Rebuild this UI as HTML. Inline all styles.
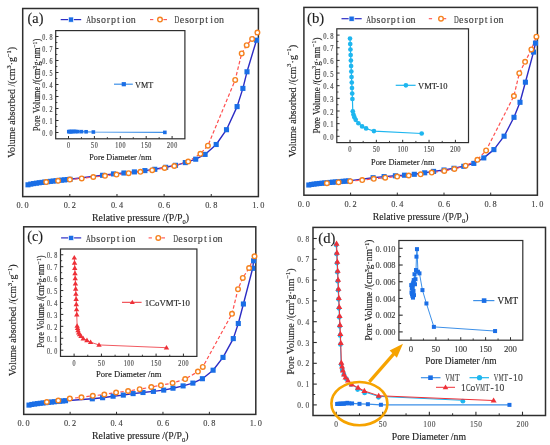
<!DOCTYPE html><html><head><meta charset="utf-8"><style>html,body{margin:0;padding:0;background:#fff;overflow:hidden;}svg{display:block;will-change:transform;}</style></head><body><svg width="550" height="445" viewBox="0 0 550 445">
<rect width="550" height="445" fill="#fff"/>
<rect x="22.7" y="8.5" width="235.70" height="188.10" fill="none" stroke="#2e2e2e" stroke-width="1.5"/>
<text x="18.70" y="208.30" font-size="8.3" font-family="Liberation Serif, serif" fill="#3c3c3c" stroke="#3c3c3c" stroke-width="0.12" text-anchor="middle">0</text>
<text x="20.78" y="208.30" font-size="8.3" font-family="Liberation Serif, serif" fill="#3c3c3c" stroke="#3c3c3c" stroke-width="0.12">.</text>
<text x="26.70" y="208.30" font-size="8.3" font-family="Liberation Serif, serif" fill="#3c3c3c" stroke="#3c3c3c" stroke-width="0.12" text-anchor="middle">0</text>
<line x1="69.84" y1="196.60" x2="69.84" y2="194.00" stroke="#2e2e2e" stroke-width="1.0" />
<text x="65.84" y="208.30" font-size="8.3" font-family="Liberation Serif, serif" fill="#3c3c3c" stroke="#3c3c3c" stroke-width="0.12" text-anchor="middle">0</text>
<text x="67.92" y="208.30" font-size="8.3" font-family="Liberation Serif, serif" fill="#3c3c3c" stroke="#3c3c3c" stroke-width="0.12">.</text>
<text x="73.84" y="208.30" font-size="8.3" font-family="Liberation Serif, serif" fill="#3c3c3c" stroke="#3c3c3c" stroke-width="0.12" text-anchor="middle">2</text>
<line x1="116.98" y1="196.60" x2="116.98" y2="194.00" stroke="#2e2e2e" stroke-width="1.0" />
<text x="112.98" y="208.30" font-size="8.3" font-family="Liberation Serif, serif" fill="#3c3c3c" stroke="#3c3c3c" stroke-width="0.12" text-anchor="middle">0</text>
<text x="115.06" y="208.30" font-size="8.3" font-family="Liberation Serif, serif" fill="#3c3c3c" stroke="#3c3c3c" stroke-width="0.12">.</text>
<text x="120.98" y="208.30" font-size="8.3" font-family="Liberation Serif, serif" fill="#3c3c3c" stroke="#3c3c3c" stroke-width="0.12" text-anchor="middle">4</text>
<line x1="164.12" y1="196.60" x2="164.12" y2="194.00" stroke="#2e2e2e" stroke-width="1.0" />
<text x="160.12" y="208.30" font-size="8.3" font-family="Liberation Serif, serif" fill="#3c3c3c" stroke="#3c3c3c" stroke-width="0.12" text-anchor="middle">0</text>
<text x="162.20" y="208.30" font-size="8.3" font-family="Liberation Serif, serif" fill="#3c3c3c" stroke="#3c3c3c" stroke-width="0.12">.</text>
<text x="168.12" y="208.30" font-size="8.3" font-family="Liberation Serif, serif" fill="#3c3c3c" stroke="#3c3c3c" stroke-width="0.12" text-anchor="middle">6</text>
<line x1="211.26" y1="196.60" x2="211.26" y2="194.00" stroke="#2e2e2e" stroke-width="1.0" />
<text x="207.26" y="208.30" font-size="8.3" font-family="Liberation Serif, serif" fill="#3c3c3c" stroke="#3c3c3c" stroke-width="0.12" text-anchor="middle">0</text>
<text x="209.34" y="208.30" font-size="8.3" font-family="Liberation Serif, serif" fill="#3c3c3c" stroke="#3c3c3c" stroke-width="0.12">.</text>
<text x="215.26" y="208.30" font-size="8.3" font-family="Liberation Serif, serif" fill="#3c3c3c" stroke="#3c3c3c" stroke-width="0.12" text-anchor="middle">8</text>
<text x="254.40" y="208.30" font-size="8.3" font-family="Liberation Serif, serif" fill="#3c3c3c" stroke="#3c3c3c" stroke-width="0.12" text-anchor="middle">1</text>
<text x="256.48" y="208.30" font-size="8.3" font-family="Liberation Serif, serif" fill="#3c3c3c" stroke="#3c3c3c" stroke-width="0.12">.</text>
<text x="262.40" y="208.30" font-size="8.3" font-family="Liberation Serif, serif" fill="#3c3c3c" stroke="#3c3c3c" stroke-width="0.12" text-anchor="middle">0</text>
<polyline points="28.00,184.80 30.80,184.08 33.60,183.59 36.40,183.16 39.20,182.76 42.00,182.39 44.80,182.03 47.60,181.69 50.40,181.37 53.20,181.05 56.00,180.74 58.80,180.44 61.60,180.15 64.40,179.86 67.20,179.58 70.00,179.30 102.60,175.30 113.50,173.90 123.90,173.00 134.40,171.90 144.90,170.60 154.80,169.30 165.70,167.30 175.50,165.30 185.30,162.60 195.70,159.20 205.10,154.40 216.20,144.50 226.50,129.70 237.10,106.60 242.90,88.40 247.00,71.80 256.50,40.20" fill="none" stroke="#2c2cc4" stroke-width="1.4" stroke-linejoin="round" />
<polyline points="46.20,182.10 58.10,180.80 69.90,179.60 81.70,178.40 93.30,177.00 105.00,175.80 116.50,174.60 128.60,173.20 140.40,171.80 152.20,170.20 164.60,168.00 174.30,166.00 188.20,161.50 200.40,153.80 207.90,145.70 235.20,79.90 241.70,53.40 246.70,45.20 252.10,38.90 257.40,32.60" fill="none" stroke="#ff5050" stroke-width="1.2" stroke-linejoin="round" stroke-dasharray="3.5,2.2"/>
<rect x="25.45" y="182.25" width="5.1" height="5.1" fill="#1a6ee6"/>
<rect x="28.25" y="181.53" width="5.1" height="5.1" fill="#1a6ee6"/>
<rect x="31.05" y="181.04" width="5.1" height="5.1" fill="#1a6ee6"/>
<rect x="33.85" y="180.61" width="5.1" height="5.1" fill="#1a6ee6"/>
<rect x="36.65" y="180.21" width="5.1" height="5.1" fill="#1a6ee6"/>
<rect x="39.45" y="179.84" width="5.1" height="5.1" fill="#1a6ee6"/>
<rect x="42.25" y="179.48" width="5.1" height="5.1" fill="#1a6ee6"/>
<rect x="45.05" y="179.14" width="5.1" height="5.1" fill="#1a6ee6"/>
<rect x="47.85" y="178.82" width="5.1" height="5.1" fill="#1a6ee6"/>
<rect x="50.65" y="178.50" width="5.1" height="5.1" fill="#1a6ee6"/>
<rect x="53.45" y="178.19" width="5.1" height="5.1" fill="#1a6ee6"/>
<rect x="56.25" y="177.89" width="5.1" height="5.1" fill="#1a6ee6"/>
<rect x="59.05" y="177.60" width="5.1" height="5.1" fill="#1a6ee6"/>
<rect x="61.85" y="177.31" width="5.1" height="5.1" fill="#1a6ee6"/>
<rect x="64.65" y="177.03" width="5.1" height="5.1" fill="#1a6ee6"/>
<rect x="67.45" y="176.75" width="5.1" height="5.1" fill="#1a6ee6"/>
<rect x="100.05" y="172.75" width="5.1" height="5.1" fill="#1a6ee6"/>
<rect x="110.95" y="171.35" width="5.1" height="5.1" fill="#1a6ee6"/>
<rect x="121.35" y="170.45" width="5.1" height="5.1" fill="#1a6ee6"/>
<rect x="131.85" y="169.35" width="5.1" height="5.1" fill="#1a6ee6"/>
<rect x="142.35" y="168.05" width="5.1" height="5.1" fill="#1a6ee6"/>
<rect x="152.25" y="166.75" width="5.1" height="5.1" fill="#1a6ee6"/>
<rect x="163.15" y="164.75" width="5.1" height="5.1" fill="#1a6ee6"/>
<rect x="172.95" y="162.75" width="5.1" height="5.1" fill="#1a6ee6"/>
<rect x="182.75" y="160.05" width="5.1" height="5.1" fill="#1a6ee6"/>
<rect x="193.15" y="156.65" width="5.1" height="5.1" fill="#1a6ee6"/>
<rect x="202.55" y="151.85" width="5.1" height="5.1" fill="#1a6ee6"/>
<rect x="213.65" y="141.95" width="5.1" height="5.1" fill="#1a6ee6"/>
<rect x="223.95" y="127.15" width="5.1" height="5.1" fill="#1a6ee6"/>
<rect x="234.55" y="104.05" width="5.1" height="5.1" fill="#1a6ee6"/>
<rect x="240.35" y="85.85" width="5.1" height="5.1" fill="#1a6ee6"/>
<rect x="244.45" y="69.25" width="5.1" height="5.1" fill="#1a6ee6"/>
<rect x="253.95" y="37.65" width="5.1" height="5.1" fill="#1a6ee6"/>
<circle cx="46.20" cy="182.10" r="2.3" fill="#fff" stroke="#f5821f" stroke-width="1.4"/>
<circle cx="58.10" cy="180.80" r="2.3" fill="#fff" stroke="#f5821f" stroke-width="1.4"/>
<circle cx="69.90" cy="179.60" r="2.3" fill="#fff" stroke="#f5821f" stroke-width="1.4"/>
<circle cx="81.70" cy="178.40" r="2.3" fill="#fff" stroke="#f5821f" stroke-width="1.4"/>
<circle cx="93.30" cy="177.00" r="2.3" fill="#fff" stroke="#f5821f" stroke-width="1.4"/>
<circle cx="105.00" cy="175.80" r="2.3" fill="#fff" stroke="#f5821f" stroke-width="1.4"/>
<circle cx="116.50" cy="174.60" r="2.3" fill="#fff" stroke="#f5821f" stroke-width="1.4"/>
<circle cx="128.60" cy="173.20" r="2.3" fill="#fff" stroke="#f5821f" stroke-width="1.4"/>
<circle cx="140.40" cy="171.80" r="2.3" fill="#fff" stroke="#f5821f" stroke-width="1.4"/>
<circle cx="152.20" cy="170.20" r="2.3" fill="#fff" stroke="#f5821f" stroke-width="1.4"/>
<circle cx="164.60" cy="168.00" r="2.3" fill="#fff" stroke="#f5821f" stroke-width="1.4"/>
<circle cx="174.30" cy="166.00" r="2.3" fill="#fff" stroke="#f5821f" stroke-width="1.4"/>
<circle cx="188.20" cy="161.50" r="2.3" fill="#fff" stroke="#f5821f" stroke-width="1.4"/>
<circle cx="200.40" cy="153.80" r="2.3" fill="#fff" stroke="#f5821f" stroke-width="1.4"/>
<circle cx="207.90" cy="145.70" r="2.3" fill="#fff" stroke="#f5821f" stroke-width="1.4"/>
<circle cx="235.20" cy="79.90" r="2.3" fill="#fff" stroke="#f5821f" stroke-width="1.4"/>
<circle cx="241.70" cy="53.40" r="2.3" fill="#fff" stroke="#f5821f" stroke-width="1.4"/>
<circle cx="246.70" cy="45.20" r="2.3" fill="#fff" stroke="#f5821f" stroke-width="1.4"/>
<circle cx="252.10" cy="38.90" r="2.3" fill="#fff" stroke="#f5821f" stroke-width="1.4"/>
<circle cx="257.40" cy="32.60" r="2.3" fill="#fff" stroke="#f5821f" stroke-width="1.4"/>
<text x="27.60" y="22.60" font-size="15.5" font-family="Liberation Serif, serif" fill="#1e1e1e" stroke="#1e1e1e" stroke-width="0.15" text-anchor="start" textLength="15.8" lengthAdjust="spacingAndGlyphs" >(a)</text>
<line x1="60.70" y1="19.60" x2="81.20" y2="19.60" stroke="#2c2cc4" stroke-width="1.2" />
<rect x="68.35" y="17.00" width="5.2" height="5.2" fill="#1a6ee6" stroke="#fff" stroke-width="0.7"/>
<text x="86.30" y="23.40" font-size="10" font-family="Liberation Serif, serif" fill="#3c3c3c" stroke="#3c3c3c" stroke-width="0.12" textLength="4.75" lengthAdjust="spacingAndGlyphs">A</text>
<text x="93.62" y="23.40" font-size="10" font-family="Liberation Serif, serif" fill="#3c3c3c" stroke="#3c3c3c" stroke-width="0.12" text-anchor="middle">b</text>
<text x="98.57" y="23.40" font-size="10" font-family="Liberation Serif, serif" fill="#3c3c3c" stroke="#3c3c3c" stroke-width="0.12" text-anchor="middle">s</text>
<text x="103.52" y="23.40" font-size="10" font-family="Liberation Serif, serif" fill="#3c3c3c" stroke="#3c3c3c" stroke-width="0.12" text-anchor="middle">o</text>
<text x="108.47" y="23.40" font-size="10" font-family="Liberation Serif, serif" fill="#3c3c3c" stroke="#3c3c3c" stroke-width="0.12" text-anchor="middle">r</text>
<text x="113.42" y="23.40" font-size="10" font-family="Liberation Serif, serif" fill="#3c3c3c" stroke="#3c3c3c" stroke-width="0.12" text-anchor="middle">p</text>
<text x="118.38" y="23.40" font-size="10" font-family="Liberation Serif, serif" fill="#3c3c3c" stroke="#3c3c3c" stroke-width="0.12" text-anchor="middle">t</text>
<text x="123.32" y="23.40" font-size="10" font-family="Liberation Serif, serif" fill="#3c3c3c" stroke="#3c3c3c" stroke-width="0.12" text-anchor="middle">i</text>
<text x="128.27" y="23.40" font-size="10" font-family="Liberation Serif, serif" fill="#3c3c3c" stroke="#3c3c3c" stroke-width="0.12" text-anchor="middle">o</text>
<text x="133.22" y="23.40" font-size="10" font-family="Liberation Serif, serif" fill="#3c3c3c" stroke="#3c3c3c" stroke-width="0.12" text-anchor="middle">n</text>
<line x1="150.00" y1="19.60" x2="153.30" y2="19.60" stroke="#ff5050" stroke-width="1.1" />
<line x1="163.40" y1="19.60" x2="167.00" y2="19.60" stroke="#ff5050" stroke-width="1.1" />
<circle cx="160.00" cy="19.60" r="2.3" fill="#fff" stroke="#f5821f" stroke-width="1.4"/>
<text x="174.60" y="23.40" font-size="10" font-family="Liberation Serif, serif" fill="#3c3c3c" stroke="#3c3c3c" stroke-width="0.12" textLength="4.75" lengthAdjust="spacingAndGlyphs">D</text>
<text x="181.93" y="23.40" font-size="10" font-family="Liberation Serif, serif" fill="#3c3c3c" stroke="#3c3c3c" stroke-width="0.12" text-anchor="middle">e</text>
<text x="186.88" y="23.40" font-size="10" font-family="Liberation Serif, serif" fill="#3c3c3c" stroke="#3c3c3c" stroke-width="0.12" text-anchor="middle">s</text>
<text x="191.82" y="23.40" font-size="10" font-family="Liberation Serif, serif" fill="#3c3c3c" stroke="#3c3c3c" stroke-width="0.12" text-anchor="middle">o</text>
<text x="196.78" y="23.40" font-size="10" font-family="Liberation Serif, serif" fill="#3c3c3c" stroke="#3c3c3c" stroke-width="0.12" text-anchor="middle">r</text>
<text x="201.72" y="23.40" font-size="10" font-family="Liberation Serif, serif" fill="#3c3c3c" stroke="#3c3c3c" stroke-width="0.12" text-anchor="middle">p</text>
<text x="206.68" y="23.40" font-size="10" font-family="Liberation Serif, serif" fill="#3c3c3c" stroke="#3c3c3c" stroke-width="0.12" text-anchor="middle">t</text>
<text x="211.62" y="23.40" font-size="10" font-family="Liberation Serif, serif" fill="#3c3c3c" stroke="#3c3c3c" stroke-width="0.12" text-anchor="middle">i</text>
<text x="216.57" y="23.40" font-size="10" font-family="Liberation Serif, serif" fill="#3c3c3c" stroke="#3c3c3c" stroke-width="0.12" text-anchor="middle">o</text>
<text x="221.53" y="23.40" font-size="10" font-family="Liberation Serif, serif" fill="#3c3c3c" stroke="#3c3c3c" stroke-width="0.12" text-anchor="middle">n</text>
<text transform="translate(15.40,157.80) rotate(-90)" font-size="10.6" font-family="Liberation Serif, serif" fill="#1e1e1e" stroke="#1e1e1e" stroke-width="0.15" textLength="110.8" lengthAdjust="spacingAndGlyphs">Volume absorbed /(cm<tspan font-size="6.8" dy="-4.4">3</tspan><tspan dy="4.4">·g</tspan><tspan font-size="6.8" dy="-4.4">−1</tspan><tspan dy="4.4">)</tspan></text>
<text x="92.00" y="220.60" font-size="10.3" font-family="Liberation Serif, serif" fill="#1e1e1e" stroke="#1e1e1e" stroke-width="0.15" text-anchor="start" textLength="97" lengthAdjust="spacingAndGlyphs" >Relative pressure /(P/P<tspan font-size="6.8" dy="3.3">0</tspan><tspan dy="-3.3">)</tspan></text>
<rect x="55.7" y="30.6" width="129.20" height="108.20" fill="#fff" stroke="none"/>
<line x1="55.70" y1="132.50" x2="58.50" y2="132.50" stroke="#2e2e2e" stroke-width="1.0" />
<line x1="55.70" y1="126.50" x2="57.40" y2="126.50" stroke="#2e2e2e" stroke-width="0.9" />
<text x="42.18" y="135.80" font-size="7.6" font-family="Liberation Serif, serif" fill="#505050" stroke="#505050" stroke-width="0.2" textLength="3.04" lengthAdjust="spacingAndGlyphs">0</text>
<text x="45.57" y="135.80" font-size="7.6" font-family="Liberation Serif, serif" fill="#505050" stroke="#505050" stroke-width="0.2">.</text>
<text x="49.38" y="135.80" font-size="7.6" font-family="Liberation Serif, serif" fill="#505050" stroke="#505050" stroke-width="0.2" textLength="3.04" lengthAdjust="spacingAndGlyphs">0</text>
<line x1="55.70" y1="120.50" x2="58.50" y2="120.50" stroke="#2e2e2e" stroke-width="1.0" />
<line x1="55.70" y1="114.50" x2="57.40" y2="114.50" stroke="#2e2e2e" stroke-width="0.9" />
<text x="42.18" y="123.80" font-size="7.6" font-family="Liberation Serif, serif" fill="#505050" stroke="#505050" stroke-width="0.2" textLength="3.04" lengthAdjust="spacingAndGlyphs">0</text>
<text x="45.57" y="123.80" font-size="7.6" font-family="Liberation Serif, serif" fill="#505050" stroke="#505050" stroke-width="0.2">.</text>
<text x="49.38" y="123.80" font-size="7.6" font-family="Liberation Serif, serif" fill="#505050" stroke="#505050" stroke-width="0.2" textLength="3.04" lengthAdjust="spacingAndGlyphs">1</text>
<line x1="55.70" y1="108.50" x2="58.50" y2="108.50" stroke="#2e2e2e" stroke-width="1.0" />
<line x1="55.70" y1="102.50" x2="57.40" y2="102.50" stroke="#2e2e2e" stroke-width="0.9" />
<text x="42.18" y="111.80" font-size="7.6" font-family="Liberation Serif, serif" fill="#505050" stroke="#505050" stroke-width="0.2" textLength="3.04" lengthAdjust="spacingAndGlyphs">0</text>
<text x="45.57" y="111.80" font-size="7.6" font-family="Liberation Serif, serif" fill="#505050" stroke="#505050" stroke-width="0.2">.</text>
<text x="49.38" y="111.80" font-size="7.6" font-family="Liberation Serif, serif" fill="#505050" stroke="#505050" stroke-width="0.2" textLength="3.04" lengthAdjust="spacingAndGlyphs">2</text>
<line x1="55.70" y1="96.50" x2="58.50" y2="96.50" stroke="#2e2e2e" stroke-width="1.0" />
<line x1="55.70" y1="90.50" x2="57.40" y2="90.50" stroke="#2e2e2e" stroke-width="0.9" />
<text x="42.18" y="99.80" font-size="7.6" font-family="Liberation Serif, serif" fill="#505050" stroke="#505050" stroke-width="0.2" textLength="3.04" lengthAdjust="spacingAndGlyphs">0</text>
<text x="45.57" y="99.80" font-size="7.6" font-family="Liberation Serif, serif" fill="#505050" stroke="#505050" stroke-width="0.2">.</text>
<text x="49.38" y="99.80" font-size="7.6" font-family="Liberation Serif, serif" fill="#505050" stroke="#505050" stroke-width="0.2" textLength="3.04" lengthAdjust="spacingAndGlyphs">3</text>
<line x1="55.70" y1="84.50" x2="58.50" y2="84.50" stroke="#2e2e2e" stroke-width="1.0" />
<line x1="55.70" y1="78.50" x2="57.40" y2="78.50" stroke="#2e2e2e" stroke-width="0.9" />
<text x="42.18" y="87.80" font-size="7.6" font-family="Liberation Serif, serif" fill="#505050" stroke="#505050" stroke-width="0.2" textLength="3.04" lengthAdjust="spacingAndGlyphs">0</text>
<text x="45.57" y="87.80" font-size="7.6" font-family="Liberation Serif, serif" fill="#505050" stroke="#505050" stroke-width="0.2">.</text>
<text x="49.38" y="87.80" font-size="7.6" font-family="Liberation Serif, serif" fill="#505050" stroke="#505050" stroke-width="0.2" textLength="3.04" lengthAdjust="spacingAndGlyphs">4</text>
<line x1="55.70" y1="72.50" x2="58.50" y2="72.50" stroke="#2e2e2e" stroke-width="1.0" />
<line x1="55.70" y1="66.50" x2="57.40" y2="66.50" stroke="#2e2e2e" stroke-width="0.9" />
<text x="42.18" y="75.80" font-size="7.6" font-family="Liberation Serif, serif" fill="#505050" stroke="#505050" stroke-width="0.2" textLength="3.04" lengthAdjust="spacingAndGlyphs">0</text>
<text x="45.57" y="75.80" font-size="7.6" font-family="Liberation Serif, serif" fill="#505050" stroke="#505050" stroke-width="0.2">.</text>
<text x="49.38" y="75.80" font-size="7.6" font-family="Liberation Serif, serif" fill="#505050" stroke="#505050" stroke-width="0.2" textLength="3.04" lengthAdjust="spacingAndGlyphs">5</text>
<line x1="55.70" y1="60.50" x2="58.50" y2="60.50" stroke="#2e2e2e" stroke-width="1.0" />
<line x1="55.70" y1="54.50" x2="57.40" y2="54.50" stroke="#2e2e2e" stroke-width="0.9" />
<text x="42.18" y="63.80" font-size="7.6" font-family="Liberation Serif, serif" fill="#505050" stroke="#505050" stroke-width="0.2" textLength="3.04" lengthAdjust="spacingAndGlyphs">0</text>
<text x="45.57" y="63.80" font-size="7.6" font-family="Liberation Serif, serif" fill="#505050" stroke="#505050" stroke-width="0.2">.</text>
<text x="49.38" y="63.80" font-size="7.6" font-family="Liberation Serif, serif" fill="#505050" stroke="#505050" stroke-width="0.2" textLength="3.04" lengthAdjust="spacingAndGlyphs">6</text>
<line x1="55.70" y1="48.50" x2="58.50" y2="48.50" stroke="#2e2e2e" stroke-width="1.0" />
<line x1="55.70" y1="42.50" x2="57.40" y2="42.50" stroke="#2e2e2e" stroke-width="0.9" />
<text x="42.18" y="51.80" font-size="7.6" font-family="Liberation Serif, serif" fill="#505050" stroke="#505050" stroke-width="0.2" textLength="3.04" lengthAdjust="spacingAndGlyphs">0</text>
<text x="45.57" y="51.80" font-size="7.6" font-family="Liberation Serif, serif" fill="#505050" stroke="#505050" stroke-width="0.2">.</text>
<text x="49.38" y="51.80" font-size="7.6" font-family="Liberation Serif, serif" fill="#505050" stroke="#505050" stroke-width="0.2" textLength="3.04" lengthAdjust="spacingAndGlyphs">7</text>
<line x1="55.70" y1="36.50" x2="58.50" y2="36.50" stroke="#2e2e2e" stroke-width="1.0" />
<text x="42.18" y="39.80" font-size="7.6" font-family="Liberation Serif, serif" fill="#505050" stroke="#505050" stroke-width="0.2" textLength="3.04" lengthAdjust="spacingAndGlyphs">0</text>
<text x="45.57" y="39.80" font-size="7.6" font-family="Liberation Serif, serif" fill="#505050" stroke="#505050" stroke-width="0.2">.</text>
<text x="49.38" y="39.80" font-size="7.6" font-family="Liberation Serif, serif" fill="#505050" stroke="#505050" stroke-width="0.2" textLength="3.04" lengthAdjust="spacingAndGlyphs">8</text>
<line x1="68.50" y1="138.80" x2="68.50" y2="136.00" stroke="#2e2e2e" stroke-width="1.0" />
<line x1="81.45" y1="138.80" x2="81.45" y2="137.10" stroke="#2e2e2e" stroke-width="0.9" />
<text x="66.98" y="148.00" font-size="7.6" font-family="Liberation Serif, serif" fill="#505050" stroke="#505050" stroke-width="0.2" textLength="3.04" lengthAdjust="spacingAndGlyphs">0</text>
<line x1="94.40" y1="138.80" x2="94.40" y2="136.00" stroke="#2e2e2e" stroke-width="1.0" />
<line x1="107.35" y1="138.80" x2="107.35" y2="137.10" stroke="#2e2e2e" stroke-width="0.9" />
<text x="91.08" y="148.00" font-size="7.6" font-family="Liberation Serif, serif" fill="#505050" stroke="#505050" stroke-width="0.2" textLength="3.04" lengthAdjust="spacingAndGlyphs">5</text>
<text x="94.68" y="148.00" font-size="7.6" font-family="Liberation Serif, serif" fill="#505050" stroke="#505050" stroke-width="0.2" textLength="3.04" lengthAdjust="spacingAndGlyphs">0</text>
<line x1="120.30" y1="138.80" x2="120.30" y2="136.00" stroke="#2e2e2e" stroke-width="1.0" />
<line x1="133.25" y1="138.80" x2="133.25" y2="137.10" stroke="#2e2e2e" stroke-width="0.9" />
<text x="115.18" y="148.00" font-size="7.6" font-family="Liberation Serif, serif" fill="#505050" stroke="#505050" stroke-width="0.2" textLength="3.04" lengthAdjust="spacingAndGlyphs">1</text>
<text x="118.78" y="148.00" font-size="7.6" font-family="Liberation Serif, serif" fill="#505050" stroke="#505050" stroke-width="0.2" textLength="3.04" lengthAdjust="spacingAndGlyphs">0</text>
<text x="122.38" y="148.00" font-size="7.6" font-family="Liberation Serif, serif" fill="#505050" stroke="#505050" stroke-width="0.2" textLength="3.04" lengthAdjust="spacingAndGlyphs">0</text>
<line x1="146.20" y1="138.80" x2="146.20" y2="136.00" stroke="#2e2e2e" stroke-width="1.0" />
<line x1="159.15" y1="138.80" x2="159.15" y2="137.10" stroke="#2e2e2e" stroke-width="0.9" />
<text x="141.08" y="148.00" font-size="7.6" font-family="Liberation Serif, serif" fill="#505050" stroke="#505050" stroke-width="0.2" textLength="3.04" lengthAdjust="spacingAndGlyphs">1</text>
<text x="144.68" y="148.00" font-size="7.6" font-family="Liberation Serif, serif" fill="#505050" stroke="#505050" stroke-width="0.2" textLength="3.04" lengthAdjust="spacingAndGlyphs">5</text>
<text x="148.28" y="148.00" font-size="7.6" font-family="Liberation Serif, serif" fill="#505050" stroke="#505050" stroke-width="0.2" textLength="3.04" lengthAdjust="spacingAndGlyphs">0</text>
<line x1="172.10" y1="138.80" x2="172.10" y2="136.00" stroke="#2e2e2e" stroke-width="1.0" />
<text x="166.98" y="148.00" font-size="7.6" font-family="Liberation Serif, serif" fill="#505050" stroke="#505050" stroke-width="0.2" textLength="3.04" lengthAdjust="spacingAndGlyphs">2</text>
<text x="170.58" y="148.00" font-size="7.6" font-family="Liberation Serif, serif" fill="#505050" stroke="#505050" stroke-width="0.2" textLength="3.04" lengthAdjust="spacingAndGlyphs">0</text>
<text x="174.18" y="148.00" font-size="7.6" font-family="Liberation Serif, serif" fill="#505050" stroke="#505050" stroke-width="0.2" textLength="3.04" lengthAdjust="spacingAndGlyphs">0</text>
<rect x="55.7" y="30.6" width="129.20" height="108.20" fill="none" stroke="#2e2e2e" stroke-width="1.2"/>
<text x="89.30" y="159.50" font-size="9.0" font-family="Liberation Serif, serif" fill="#1e1e1e" stroke="#1e1e1e" stroke-width="0.15" text-anchor="start" textLength="62.2" lengthAdjust="spacingAndGlyphs" >Pore Diameter /nm</text>
<text transform="translate(40.00,131.20) rotate(-90)" font-size="10" font-family="Liberation Serif, serif" fill="#1e1e1e" stroke="#1e1e1e" stroke-width="0.15" textLength="92.5" lengthAdjust="spacingAndGlyphs">Pore Volume /(cm<tspan font-size="6.5" dy="-3.5">3</tspan><tspan dy="3.5">g·nm</tspan><tspan font-size="6.5" dy="-3.5">−1</tspan><tspan dy="3.5">)</tspan></text>
<polyline points="68.76,131.66 69.54,131.54 70.57,131.66 71.61,131.54 72.64,131.60 74.20,131.42 75.75,131.54 77.82,131.60 81.45,131.66 86.11,131.78 93.36,132.02 164.85,132.38" fill="none" stroke="#3d90e8" stroke-width="1.2" stroke-linejoin="round" />
<rect x="66.96" y="129.86" width="3.6" height="3.6" fill="#1a6ee6"/>
<rect x="67.74" y="129.74" width="3.6" height="3.6" fill="#1a6ee6"/>
<rect x="68.77" y="129.86" width="3.6" height="3.6" fill="#1a6ee6"/>
<rect x="69.81" y="129.74" width="3.6" height="3.6" fill="#1a6ee6"/>
<rect x="70.84" y="129.80" width="3.6" height="3.6" fill="#1a6ee6"/>
<rect x="72.40" y="129.62" width="3.6" height="3.6" fill="#1a6ee6"/>
<rect x="73.95" y="129.74" width="3.6" height="3.6" fill="#1a6ee6"/>
<rect x="76.02" y="129.80" width="3.6" height="3.6" fill="#1a6ee6"/>
<rect x="79.65" y="129.86" width="3.6" height="3.6" fill="#1a6ee6"/>
<rect x="84.31" y="129.98" width="3.6" height="3.6" fill="#1a6ee6"/>
<rect x="91.56" y="130.22" width="3.6" height="3.6" fill="#1a6ee6"/>
<rect x="163.05" y="130.58" width="3.6" height="3.6" fill="#1a6ee6"/>
<line x1="114.00" y1="84.20" x2="132.80" y2="84.20" stroke="#3d90e8" stroke-width="1.2" />
<rect x="121.70" y="82.10" width="4.2" height="4.2" fill="#1a6ee6"/>
<text x="135.00" y="87.60" font-size="8.9" font-family="Liberation Serif, serif" fill="#1e1e1e" stroke="#1e1e1e" stroke-width="0.15" text-anchor="start" textLength="18.2" lengthAdjust="spacingAndGlyphs" >VMT</text>
<rect x="303.9" y="7.4" width="233.50" height="187.80" fill="none" stroke="#2e2e2e" stroke-width="1.5"/>
<text x="299.90" y="207.40" font-size="8.3" font-family="Liberation Serif, serif" fill="#3c3c3c" stroke="#3c3c3c" stroke-width="0.12" text-anchor="middle">0</text>
<text x="301.98" y="207.40" font-size="8.3" font-family="Liberation Serif, serif" fill="#3c3c3c" stroke="#3c3c3c" stroke-width="0.12">.</text>
<text x="307.90" y="207.40" font-size="8.3" font-family="Liberation Serif, serif" fill="#3c3c3c" stroke="#3c3c3c" stroke-width="0.12" text-anchor="middle">0</text>
<line x1="350.60" y1="195.20" x2="350.60" y2="192.60" stroke="#2e2e2e" stroke-width="1.0" />
<text x="346.60" y="207.40" font-size="8.3" font-family="Liberation Serif, serif" fill="#3c3c3c" stroke="#3c3c3c" stroke-width="0.12" text-anchor="middle">0</text>
<text x="348.68" y="207.40" font-size="8.3" font-family="Liberation Serif, serif" fill="#3c3c3c" stroke="#3c3c3c" stroke-width="0.12">.</text>
<text x="354.60" y="207.40" font-size="8.3" font-family="Liberation Serif, serif" fill="#3c3c3c" stroke="#3c3c3c" stroke-width="0.12" text-anchor="middle">2</text>
<line x1="397.30" y1="195.20" x2="397.30" y2="192.60" stroke="#2e2e2e" stroke-width="1.0" />
<text x="393.30" y="207.40" font-size="8.3" font-family="Liberation Serif, serif" fill="#3c3c3c" stroke="#3c3c3c" stroke-width="0.12" text-anchor="middle">0</text>
<text x="395.38" y="207.40" font-size="8.3" font-family="Liberation Serif, serif" fill="#3c3c3c" stroke="#3c3c3c" stroke-width="0.12">.</text>
<text x="401.30" y="207.40" font-size="8.3" font-family="Liberation Serif, serif" fill="#3c3c3c" stroke="#3c3c3c" stroke-width="0.12" text-anchor="middle">4</text>
<line x1="444.00" y1="195.20" x2="444.00" y2="192.60" stroke="#2e2e2e" stroke-width="1.0" />
<text x="440.00" y="207.40" font-size="8.3" font-family="Liberation Serif, serif" fill="#3c3c3c" stroke="#3c3c3c" stroke-width="0.12" text-anchor="middle">0</text>
<text x="442.08" y="207.40" font-size="8.3" font-family="Liberation Serif, serif" fill="#3c3c3c" stroke="#3c3c3c" stroke-width="0.12">.</text>
<text x="448.00" y="207.40" font-size="8.3" font-family="Liberation Serif, serif" fill="#3c3c3c" stroke="#3c3c3c" stroke-width="0.12" text-anchor="middle">6</text>
<line x1="490.70" y1="195.20" x2="490.70" y2="192.60" stroke="#2e2e2e" stroke-width="1.0" />
<text x="486.70" y="207.40" font-size="8.3" font-family="Liberation Serif, serif" fill="#3c3c3c" stroke="#3c3c3c" stroke-width="0.12" text-anchor="middle">0</text>
<text x="488.78" y="207.40" font-size="8.3" font-family="Liberation Serif, serif" fill="#3c3c3c" stroke="#3c3c3c" stroke-width="0.12">.</text>
<text x="494.70" y="207.40" font-size="8.3" font-family="Liberation Serif, serif" fill="#3c3c3c" stroke="#3c3c3c" stroke-width="0.12" text-anchor="middle">8</text>
<text x="533.40" y="207.40" font-size="8.3" font-family="Liberation Serif, serif" fill="#3c3c3c" stroke="#3c3c3c" stroke-width="0.12" text-anchor="middle">1</text>
<text x="535.48" y="207.40" font-size="8.3" font-family="Liberation Serif, serif" fill="#3c3c3c" stroke="#3c3c3c" stroke-width="0.12">.</text>
<text x="541.40" y="207.40" font-size="8.3" font-family="Liberation Serif, serif" fill="#3c3c3c" stroke="#3c3c3c" stroke-width="0.12" text-anchor="middle">0</text>
<polyline points="308.80,185.00 311.45,184.46 314.09,184.10 316.74,183.77 319.39,183.48 322.03,183.20 324.68,182.94 327.33,182.69 329.97,182.44 332.62,182.20 335.27,181.98 337.91,181.75 340.56,181.53 343.21,181.32 345.85,181.11 348.50,180.90 373.10,177.70 384.10,176.60 395.40,175.80 404.50,175.20 414.30,174.30 424.70,172.80 433.60,171.40 444.00,170.00 454.00,168.30 463.80,166.30 473.80,163.40 483.80,157.90 493.90,149.60 504.10,136.20 514.00,117.30 520.00,102.30 525.40,82.20 533.50,52.10 535.50,43.10" fill="none" stroke="#2c2cc4" stroke-width="1.4" stroke-linejoin="round" />
<polyline points="326.90,183.20 338.60,182.30 350.20,181.20 362.20,180.10 373.80,178.80 385.20,177.70 397.20,176.60 408.70,175.50 420.60,174.30 431.70,172.60 444.30,170.90 454.40,169.00 465.60,165.70 477.40,159.80 486.10,150.40 513.90,96.00 519.30,73.20 525.10,61.80 531.40,49.40 536.40,36.70" fill="none" stroke="#ff5050" stroke-width="1.2" stroke-linejoin="round" stroke-dasharray="3.5,2.2"/>
<rect x="306.25" y="182.45" width="5.1" height="5.1" fill="#1a6ee6"/>
<rect x="308.90" y="181.91" width="5.1" height="5.1" fill="#1a6ee6"/>
<rect x="311.54" y="181.55" width="5.1" height="5.1" fill="#1a6ee6"/>
<rect x="314.19" y="181.22" width="5.1" height="5.1" fill="#1a6ee6"/>
<rect x="316.84" y="180.93" width="5.1" height="5.1" fill="#1a6ee6"/>
<rect x="319.48" y="180.65" width="5.1" height="5.1" fill="#1a6ee6"/>
<rect x="322.13" y="180.39" width="5.1" height="5.1" fill="#1a6ee6"/>
<rect x="324.78" y="180.14" width="5.1" height="5.1" fill="#1a6ee6"/>
<rect x="327.42" y="179.89" width="5.1" height="5.1" fill="#1a6ee6"/>
<rect x="330.07" y="179.65" width="5.1" height="5.1" fill="#1a6ee6"/>
<rect x="332.72" y="179.43" width="5.1" height="5.1" fill="#1a6ee6"/>
<rect x="335.36" y="179.20" width="5.1" height="5.1" fill="#1a6ee6"/>
<rect x="338.01" y="178.98" width="5.1" height="5.1" fill="#1a6ee6"/>
<rect x="340.66" y="178.77" width="5.1" height="5.1" fill="#1a6ee6"/>
<rect x="343.30" y="178.56" width="5.1" height="5.1" fill="#1a6ee6"/>
<rect x="345.95" y="178.35" width="5.1" height="5.1" fill="#1a6ee6"/>
<rect x="370.55" y="175.15" width="5.1" height="5.1" fill="#1a6ee6"/>
<rect x="381.55" y="174.05" width="5.1" height="5.1" fill="#1a6ee6"/>
<rect x="392.85" y="173.25" width="5.1" height="5.1" fill="#1a6ee6"/>
<rect x="401.95" y="172.65" width="5.1" height="5.1" fill="#1a6ee6"/>
<rect x="411.75" y="171.75" width="5.1" height="5.1" fill="#1a6ee6"/>
<rect x="422.15" y="170.25" width="5.1" height="5.1" fill="#1a6ee6"/>
<rect x="431.05" y="168.85" width="5.1" height="5.1" fill="#1a6ee6"/>
<rect x="441.45" y="167.45" width="5.1" height="5.1" fill="#1a6ee6"/>
<rect x="451.45" y="165.75" width="5.1" height="5.1" fill="#1a6ee6"/>
<rect x="461.25" y="163.75" width="5.1" height="5.1" fill="#1a6ee6"/>
<rect x="471.25" y="160.85" width="5.1" height="5.1" fill="#1a6ee6"/>
<rect x="481.25" y="155.35" width="5.1" height="5.1" fill="#1a6ee6"/>
<rect x="491.35" y="147.05" width="5.1" height="5.1" fill="#1a6ee6"/>
<rect x="501.55" y="133.65" width="5.1" height="5.1" fill="#1a6ee6"/>
<rect x="511.45" y="114.75" width="5.1" height="5.1" fill="#1a6ee6"/>
<rect x="517.45" y="99.75" width="5.1" height="5.1" fill="#1a6ee6"/>
<rect x="522.85" y="79.65" width="5.1" height="5.1" fill="#1a6ee6"/>
<rect x="530.95" y="49.55" width="5.1" height="5.1" fill="#1a6ee6"/>
<rect x="532.95" y="40.55" width="5.1" height="5.1" fill="#1a6ee6"/>
<circle cx="326.90" cy="183.20" r="2.3" fill="#fff" stroke="#f5821f" stroke-width="1.4"/>
<circle cx="338.60" cy="182.30" r="2.3" fill="#fff" stroke="#f5821f" stroke-width="1.4"/>
<circle cx="350.20" cy="181.20" r="2.3" fill="#fff" stroke="#f5821f" stroke-width="1.4"/>
<circle cx="362.20" cy="180.10" r="2.3" fill="#fff" stroke="#f5821f" stroke-width="1.4"/>
<circle cx="373.80" cy="178.80" r="2.3" fill="#fff" stroke="#f5821f" stroke-width="1.4"/>
<circle cx="385.20" cy="177.70" r="2.3" fill="#fff" stroke="#f5821f" stroke-width="1.4"/>
<circle cx="397.20" cy="176.60" r="2.3" fill="#fff" stroke="#f5821f" stroke-width="1.4"/>
<circle cx="408.70" cy="175.50" r="2.3" fill="#fff" stroke="#f5821f" stroke-width="1.4"/>
<circle cx="420.60" cy="174.30" r="2.3" fill="#fff" stroke="#f5821f" stroke-width="1.4"/>
<circle cx="431.70" cy="172.60" r="2.3" fill="#fff" stroke="#f5821f" stroke-width="1.4"/>
<circle cx="444.30" cy="170.90" r="2.3" fill="#fff" stroke="#f5821f" stroke-width="1.4"/>
<circle cx="454.40" cy="169.00" r="2.3" fill="#fff" stroke="#f5821f" stroke-width="1.4"/>
<circle cx="465.60" cy="165.70" r="2.3" fill="#fff" stroke="#f5821f" stroke-width="1.4"/>
<circle cx="477.40" cy="159.80" r="2.3" fill="#fff" stroke="#f5821f" stroke-width="1.4"/>
<circle cx="486.10" cy="150.40" r="2.3" fill="#fff" stroke="#f5821f" stroke-width="1.4"/>
<circle cx="513.90" cy="96.00" r="2.3" fill="#fff" stroke="#f5821f" stroke-width="1.4"/>
<circle cx="519.30" cy="73.20" r="2.3" fill="#fff" stroke="#f5821f" stroke-width="1.4"/>
<circle cx="525.10" cy="61.80" r="2.3" fill="#fff" stroke="#f5821f" stroke-width="1.4"/>
<circle cx="531.40" cy="49.40" r="2.3" fill="#fff" stroke="#f5821f" stroke-width="1.4"/>
<circle cx="536.40" cy="36.70" r="2.3" fill="#fff" stroke="#f5821f" stroke-width="1.4"/>
<text x="307.00" y="23.00" font-size="15.5" font-family="Liberation Serif, serif" fill="#1e1e1e" stroke="#1e1e1e" stroke-width="0.15" text-anchor="start" textLength="17.2" lengthAdjust="spacingAndGlyphs" >(b)</text>
<line x1="341.50" y1="18.70" x2="361.70" y2="18.70" stroke="#2c2cc4" stroke-width="1.2" />
<rect x="349.00" y="16.10" width="5.2" height="5.2" fill="#1a6ee6" stroke="#fff" stroke-width="0.7"/>
<text x="366.20" y="22.50" font-size="10" font-family="Liberation Serif, serif" fill="#3c3c3c" stroke="#3c3c3c" stroke-width="0.12" textLength="4.75" lengthAdjust="spacingAndGlyphs">A</text>
<text x="373.53" y="22.50" font-size="10" font-family="Liberation Serif, serif" fill="#3c3c3c" stroke="#3c3c3c" stroke-width="0.12" text-anchor="middle">b</text>
<text x="378.48" y="22.50" font-size="10" font-family="Liberation Serif, serif" fill="#3c3c3c" stroke="#3c3c3c" stroke-width="0.12" text-anchor="middle">s</text>
<text x="383.43" y="22.50" font-size="10" font-family="Liberation Serif, serif" fill="#3c3c3c" stroke="#3c3c3c" stroke-width="0.12" text-anchor="middle">o</text>
<text x="388.38" y="22.50" font-size="10" font-family="Liberation Serif, serif" fill="#3c3c3c" stroke="#3c3c3c" stroke-width="0.12" text-anchor="middle">r</text>
<text x="393.33" y="22.50" font-size="10" font-family="Liberation Serif, serif" fill="#3c3c3c" stroke="#3c3c3c" stroke-width="0.12" text-anchor="middle">p</text>
<text x="398.28" y="22.50" font-size="10" font-family="Liberation Serif, serif" fill="#3c3c3c" stroke="#3c3c3c" stroke-width="0.12" text-anchor="middle">t</text>
<text x="403.23" y="22.50" font-size="10" font-family="Liberation Serif, serif" fill="#3c3c3c" stroke="#3c3c3c" stroke-width="0.12" text-anchor="middle">i</text>
<text x="408.18" y="22.50" font-size="10" font-family="Liberation Serif, serif" fill="#3c3c3c" stroke="#3c3c3c" stroke-width="0.12" text-anchor="middle">o</text>
<text x="413.12" y="22.50" font-size="10" font-family="Liberation Serif, serif" fill="#3c3c3c" stroke="#3c3c3c" stroke-width="0.12" text-anchor="middle">n</text>
<line x1="428.80" y1="18.70" x2="432.10" y2="18.70" stroke="#ff5050" stroke-width="1.1" />
<line x1="442.60" y1="18.70" x2="446.20" y2="18.70" stroke="#ff5050" stroke-width="1.1" />
<circle cx="441.00" cy="18.70" r="2.3" fill="#fff" stroke="#f5821f" stroke-width="1.4"/>
<text x="454.00" y="22.50" font-size="10" font-family="Liberation Serif, serif" fill="#3c3c3c" stroke="#3c3c3c" stroke-width="0.12" textLength="4.75" lengthAdjust="spacingAndGlyphs">D</text>
<text x="461.33" y="22.50" font-size="10" font-family="Liberation Serif, serif" fill="#3c3c3c" stroke="#3c3c3c" stroke-width="0.12" text-anchor="middle">e</text>
<text x="466.28" y="22.50" font-size="10" font-family="Liberation Serif, serif" fill="#3c3c3c" stroke="#3c3c3c" stroke-width="0.12" text-anchor="middle">s</text>
<text x="471.23" y="22.50" font-size="10" font-family="Liberation Serif, serif" fill="#3c3c3c" stroke="#3c3c3c" stroke-width="0.12" text-anchor="middle">o</text>
<text x="476.18" y="22.50" font-size="10" font-family="Liberation Serif, serif" fill="#3c3c3c" stroke="#3c3c3c" stroke-width="0.12" text-anchor="middle">r</text>
<text x="481.13" y="22.50" font-size="10" font-family="Liberation Serif, serif" fill="#3c3c3c" stroke="#3c3c3c" stroke-width="0.12" text-anchor="middle">p</text>
<text x="486.08" y="22.50" font-size="10" font-family="Liberation Serif, serif" fill="#3c3c3c" stroke="#3c3c3c" stroke-width="0.12" text-anchor="middle">t</text>
<text x="491.03" y="22.50" font-size="10" font-family="Liberation Serif, serif" fill="#3c3c3c" stroke="#3c3c3c" stroke-width="0.12" text-anchor="middle">i</text>
<text x="495.98" y="22.50" font-size="10" font-family="Liberation Serif, serif" fill="#3c3c3c" stroke="#3c3c3c" stroke-width="0.12" text-anchor="middle">o</text>
<text x="500.93" y="22.50" font-size="10" font-family="Liberation Serif, serif" fill="#3c3c3c" stroke="#3c3c3c" stroke-width="0.12" text-anchor="middle">n</text>
<text transform="translate(295.60,157.20) rotate(-90)" font-size="10.6" font-family="Liberation Serif, serif" fill="#1e1e1e" stroke="#1e1e1e" stroke-width="0.15" textLength="112.3" lengthAdjust="spacingAndGlyphs">Volume absorbed /(cm<tspan font-size="6.8" dy="-4.4">3</tspan><tspan dy="4.4">·g</tspan><tspan font-size="6.8" dy="-4.4">−1</tspan><tspan dy="4.4">)</tspan></text>
<text x="372.70" y="219.60" font-size="10.3" font-family="Liberation Serif, serif" fill="#1e1e1e" stroke="#1e1e1e" stroke-width="0.15" text-anchor="start" textLength="95.8" lengthAdjust="spacingAndGlyphs" >Relative pressure /(P/P<tspan font-size="6.8" dy="3.3">0</tspan><tspan dy="-3.3">)</tspan></text>
<rect x="336.8" y="28.8" width="131.70" height="113.80" fill="#fff" stroke="none"/>
<line x1="336.80" y1="136.30" x2="339.60" y2="136.30" stroke="#2e2e2e" stroke-width="1.0" />
<line x1="336.80" y1="129.98" x2="338.50" y2="129.98" stroke="#2e2e2e" stroke-width="0.9" />
<text x="323.16" y="139.80" font-size="8.2" font-family="Liberation Serif, serif" fill="#505050" stroke="#505050" stroke-width="0.2" textLength="3.28" lengthAdjust="spacingAndGlyphs">0</text>
<text x="326.67" y="139.80" font-size="8.2" font-family="Liberation Serif, serif" fill="#505050" stroke="#505050" stroke-width="0.2">.</text>
<text x="330.36" y="139.80" font-size="8.2" font-family="Liberation Serif, serif" fill="#505050" stroke="#505050" stroke-width="0.2" textLength="3.28" lengthAdjust="spacingAndGlyphs">0</text>
<line x1="336.80" y1="123.65" x2="339.60" y2="123.65" stroke="#2e2e2e" stroke-width="1.0" />
<line x1="336.80" y1="117.33" x2="338.50" y2="117.33" stroke="#2e2e2e" stroke-width="0.9" />
<text x="323.16" y="127.15" font-size="8.2" font-family="Liberation Serif, serif" fill="#505050" stroke="#505050" stroke-width="0.2" textLength="3.28" lengthAdjust="spacingAndGlyphs">0</text>
<text x="326.67" y="127.15" font-size="8.2" font-family="Liberation Serif, serif" fill="#505050" stroke="#505050" stroke-width="0.2">.</text>
<text x="330.36" y="127.15" font-size="8.2" font-family="Liberation Serif, serif" fill="#505050" stroke="#505050" stroke-width="0.2" textLength="3.28" lengthAdjust="spacingAndGlyphs">1</text>
<line x1="336.80" y1="111.00" x2="339.60" y2="111.00" stroke="#2e2e2e" stroke-width="1.0" />
<line x1="336.80" y1="104.68" x2="338.50" y2="104.68" stroke="#2e2e2e" stroke-width="0.9" />
<text x="323.16" y="114.50" font-size="8.2" font-family="Liberation Serif, serif" fill="#505050" stroke="#505050" stroke-width="0.2" textLength="3.28" lengthAdjust="spacingAndGlyphs">0</text>
<text x="326.67" y="114.50" font-size="8.2" font-family="Liberation Serif, serif" fill="#505050" stroke="#505050" stroke-width="0.2">.</text>
<text x="330.36" y="114.50" font-size="8.2" font-family="Liberation Serif, serif" fill="#505050" stroke="#505050" stroke-width="0.2" textLength="3.28" lengthAdjust="spacingAndGlyphs">2</text>
<line x1="336.80" y1="98.35" x2="339.60" y2="98.35" stroke="#2e2e2e" stroke-width="1.0" />
<line x1="336.80" y1="92.03" x2="338.50" y2="92.03" stroke="#2e2e2e" stroke-width="0.9" />
<text x="323.16" y="101.85" font-size="8.2" font-family="Liberation Serif, serif" fill="#505050" stroke="#505050" stroke-width="0.2" textLength="3.28" lengthAdjust="spacingAndGlyphs">0</text>
<text x="326.67" y="101.85" font-size="8.2" font-family="Liberation Serif, serif" fill="#505050" stroke="#505050" stroke-width="0.2">.</text>
<text x="330.36" y="101.85" font-size="8.2" font-family="Liberation Serif, serif" fill="#505050" stroke="#505050" stroke-width="0.2" textLength="3.28" lengthAdjust="spacingAndGlyphs">3</text>
<line x1="336.80" y1="85.70" x2="339.60" y2="85.70" stroke="#2e2e2e" stroke-width="1.0" />
<line x1="336.80" y1="79.38" x2="338.50" y2="79.38" stroke="#2e2e2e" stroke-width="0.9" />
<text x="323.16" y="89.20" font-size="8.2" font-family="Liberation Serif, serif" fill="#505050" stroke="#505050" stroke-width="0.2" textLength="3.28" lengthAdjust="spacingAndGlyphs">0</text>
<text x="326.67" y="89.20" font-size="8.2" font-family="Liberation Serif, serif" fill="#505050" stroke="#505050" stroke-width="0.2">.</text>
<text x="330.36" y="89.20" font-size="8.2" font-family="Liberation Serif, serif" fill="#505050" stroke="#505050" stroke-width="0.2" textLength="3.28" lengthAdjust="spacingAndGlyphs">4</text>
<line x1="336.80" y1="73.05" x2="339.60" y2="73.05" stroke="#2e2e2e" stroke-width="1.0" />
<line x1="336.80" y1="66.73" x2="338.50" y2="66.73" stroke="#2e2e2e" stroke-width="0.9" />
<text x="323.16" y="76.55" font-size="8.2" font-family="Liberation Serif, serif" fill="#505050" stroke="#505050" stroke-width="0.2" textLength="3.28" lengthAdjust="spacingAndGlyphs">0</text>
<text x="326.67" y="76.55" font-size="8.2" font-family="Liberation Serif, serif" fill="#505050" stroke="#505050" stroke-width="0.2">.</text>
<text x="330.36" y="76.55" font-size="8.2" font-family="Liberation Serif, serif" fill="#505050" stroke="#505050" stroke-width="0.2" textLength="3.28" lengthAdjust="spacingAndGlyphs">5</text>
<line x1="336.80" y1="60.40" x2="339.60" y2="60.40" stroke="#2e2e2e" stroke-width="1.0" />
<line x1="336.80" y1="54.08" x2="338.50" y2="54.08" stroke="#2e2e2e" stroke-width="0.9" />
<text x="323.16" y="63.90" font-size="8.2" font-family="Liberation Serif, serif" fill="#505050" stroke="#505050" stroke-width="0.2" textLength="3.28" lengthAdjust="spacingAndGlyphs">0</text>
<text x="326.67" y="63.90" font-size="8.2" font-family="Liberation Serif, serif" fill="#505050" stroke="#505050" stroke-width="0.2">.</text>
<text x="330.36" y="63.90" font-size="8.2" font-family="Liberation Serif, serif" fill="#505050" stroke="#505050" stroke-width="0.2" textLength="3.28" lengthAdjust="spacingAndGlyphs">6</text>
<line x1="336.80" y1="47.75" x2="339.60" y2="47.75" stroke="#2e2e2e" stroke-width="1.0" />
<line x1="336.80" y1="41.43" x2="338.50" y2="41.43" stroke="#2e2e2e" stroke-width="0.9" />
<text x="323.16" y="51.25" font-size="8.2" font-family="Liberation Serif, serif" fill="#505050" stroke="#505050" stroke-width="0.2" textLength="3.28" lengthAdjust="spacingAndGlyphs">0</text>
<text x="326.67" y="51.25" font-size="8.2" font-family="Liberation Serif, serif" fill="#505050" stroke="#505050" stroke-width="0.2">.</text>
<text x="330.36" y="51.25" font-size="8.2" font-family="Liberation Serif, serif" fill="#505050" stroke="#505050" stroke-width="0.2" textLength="3.28" lengthAdjust="spacingAndGlyphs">7</text>
<line x1="336.80" y1="35.10" x2="339.60" y2="35.10" stroke="#2e2e2e" stroke-width="1.0" />
<text x="323.16" y="38.60" font-size="8.2" font-family="Liberation Serif, serif" fill="#505050" stroke="#505050" stroke-width="0.2" textLength="3.28" lengthAdjust="spacingAndGlyphs">0</text>
<text x="326.67" y="38.60" font-size="8.2" font-family="Liberation Serif, serif" fill="#505050" stroke="#505050" stroke-width="0.2">.</text>
<text x="330.36" y="38.60" font-size="8.2" font-family="Liberation Serif, serif" fill="#505050" stroke="#505050" stroke-width="0.2" textLength="3.28" lengthAdjust="spacingAndGlyphs">8</text>
<line x1="350.00" y1="142.60" x2="350.00" y2="139.80" stroke="#2e2e2e" stroke-width="1.0" />
<line x1="363.18" y1="142.60" x2="363.18" y2="140.90" stroke="#2e2e2e" stroke-width="0.9" />
<text x="348.36" y="152.20" font-size="8.2" font-family="Liberation Serif, serif" fill="#505050" stroke="#505050" stroke-width="0.2" textLength="3.28" lengthAdjust="spacingAndGlyphs">0</text>
<line x1="376.35" y1="142.60" x2="376.35" y2="139.80" stroke="#2e2e2e" stroke-width="1.0" />
<line x1="389.53" y1="142.60" x2="389.53" y2="140.90" stroke="#2e2e2e" stroke-width="0.9" />
<text x="372.91" y="152.20" font-size="8.2" font-family="Liberation Serif, serif" fill="#505050" stroke="#505050" stroke-width="0.2" textLength="3.28" lengthAdjust="spacingAndGlyphs">5</text>
<text x="376.51" y="152.20" font-size="8.2" font-family="Liberation Serif, serif" fill="#505050" stroke="#505050" stroke-width="0.2" textLength="3.28" lengthAdjust="spacingAndGlyphs">0</text>
<line x1="402.70" y1="142.60" x2="402.70" y2="139.80" stroke="#2e2e2e" stroke-width="1.0" />
<line x1="415.88" y1="142.60" x2="415.88" y2="140.90" stroke="#2e2e2e" stroke-width="0.9" />
<text x="397.46" y="152.20" font-size="8.2" font-family="Liberation Serif, serif" fill="#505050" stroke="#505050" stroke-width="0.2" textLength="3.28" lengthAdjust="spacingAndGlyphs">1</text>
<text x="401.06" y="152.20" font-size="8.2" font-family="Liberation Serif, serif" fill="#505050" stroke="#505050" stroke-width="0.2" textLength="3.28" lengthAdjust="spacingAndGlyphs">0</text>
<text x="404.66" y="152.20" font-size="8.2" font-family="Liberation Serif, serif" fill="#505050" stroke="#505050" stroke-width="0.2" textLength="3.28" lengthAdjust="spacingAndGlyphs">0</text>
<line x1="429.05" y1="142.60" x2="429.05" y2="139.80" stroke="#2e2e2e" stroke-width="1.0" />
<line x1="442.23" y1="142.60" x2="442.23" y2="140.90" stroke="#2e2e2e" stroke-width="0.9" />
<text x="423.81" y="152.20" font-size="8.2" font-family="Liberation Serif, serif" fill="#505050" stroke="#505050" stroke-width="0.2" textLength="3.28" lengthAdjust="spacingAndGlyphs">1</text>
<text x="427.41" y="152.20" font-size="8.2" font-family="Liberation Serif, serif" fill="#505050" stroke="#505050" stroke-width="0.2" textLength="3.28" lengthAdjust="spacingAndGlyphs">5</text>
<text x="431.01" y="152.20" font-size="8.2" font-family="Liberation Serif, serif" fill="#505050" stroke="#505050" stroke-width="0.2" textLength="3.28" lengthAdjust="spacingAndGlyphs">0</text>
<line x1="455.40" y1="142.60" x2="455.40" y2="139.80" stroke="#2e2e2e" stroke-width="1.0" />
<text x="450.16" y="152.20" font-size="8.2" font-family="Liberation Serif, serif" fill="#505050" stroke="#505050" stroke-width="0.2" textLength="3.28" lengthAdjust="spacingAndGlyphs">2</text>
<text x="453.76" y="152.20" font-size="8.2" font-family="Liberation Serif, serif" fill="#505050" stroke="#505050" stroke-width="0.2" textLength="3.28" lengthAdjust="spacingAndGlyphs">0</text>
<text x="457.36" y="152.20" font-size="8.2" font-family="Liberation Serif, serif" fill="#505050" stroke="#505050" stroke-width="0.2" textLength="3.28" lengthAdjust="spacingAndGlyphs">0</text>
<rect x="336.8" y="28.8" width="131.70" height="113.80" fill="none" stroke="#2e2e2e" stroke-width="1.2"/>
<text x="371.00" y="164.70" font-size="9.0" font-family="Liberation Serif, serif" fill="#1e1e1e" stroke="#1e1e1e" stroke-width="0.15" text-anchor="start" textLength="63.5" lengthAdjust="spacingAndGlyphs" >Pore Diameter /nm</text>
<text transform="translate(319.80,133.60) rotate(-90)" font-size="10.2" font-family="Liberation Serif, serif" fill="#1e1e1e" stroke="#1e1e1e" stroke-width="0.15" textLength="96" lengthAdjust="spacingAndGlyphs">Pore Volume /(cm<tspan font-size="6.6" dy="-3.5">3</tspan><tspan dy="3.5">g·nm</tspan><tspan font-size="6.6" dy="-3.5">−1</tspan><tspan dy="3.5">)</tspan></text>
<polyline points="350.00,38.52 350.22,44.02 350.44,49.51 350.66,55.01 350.88,60.50 351.10,66.00 351.32,71.49 351.54,77.00 351.77,82.49 351.98,87.99 352.20,93.48 352.42,98.98 352.79,111.25 353.43,114.54 354.37,117.20 355.69,119.86 358.38,123.27 362.12,126.43 366.07,128.46 373.93,131.11 421.67,133.52" fill="none" stroke="#1eb6ef" stroke-width="1.2" stroke-linejoin="round" />
<circle cx="350.00" cy="38.52" r="2.35" fill="#1eb6ef"/>
<circle cx="350.22" cy="44.02" r="2.35" fill="#1eb6ef"/>
<circle cx="350.44" cy="49.51" r="2.35" fill="#1eb6ef"/>
<circle cx="350.66" cy="55.01" r="2.35" fill="#1eb6ef"/>
<circle cx="350.88" cy="60.50" r="2.35" fill="#1eb6ef"/>
<circle cx="351.10" cy="66.00" r="2.35" fill="#1eb6ef"/>
<circle cx="351.32" cy="71.49" r="2.35" fill="#1eb6ef"/>
<circle cx="351.54" cy="77.00" r="2.35" fill="#1eb6ef"/>
<circle cx="351.77" cy="82.49" r="2.35" fill="#1eb6ef"/>
<circle cx="351.98" cy="87.99" r="2.35" fill="#1eb6ef"/>
<circle cx="352.20" cy="93.48" r="2.35" fill="#1eb6ef"/>
<circle cx="352.42" cy="98.98" r="2.35" fill="#1eb6ef"/>
<circle cx="352.79" cy="111.25" r="2.35" fill="#1eb6ef"/>
<circle cx="353.43" cy="114.54" r="2.35" fill="#1eb6ef"/>
<circle cx="354.37" cy="117.20" r="2.35" fill="#1eb6ef"/>
<circle cx="355.69" cy="119.86" r="2.35" fill="#1eb6ef"/>
<circle cx="358.38" cy="123.27" r="2.35" fill="#1eb6ef"/>
<circle cx="362.12" cy="126.43" r="2.35" fill="#1eb6ef"/>
<circle cx="366.07" cy="128.46" r="2.35" fill="#1eb6ef"/>
<circle cx="373.93" cy="131.11" r="2.35" fill="#1eb6ef"/>
<circle cx="421.67" cy="133.52" r="2.35" fill="#1eb6ef"/>
<line x1="395.70" y1="85.30" x2="415.60" y2="85.30" stroke="#1eb6ef" stroke-width="1.2" />
<circle cx="405.90" cy="85.30" r="2.35" fill="#1eb6ef"/>
<text x="418.10" y="88.60" font-size="8.6" font-family="Liberation Serif, serif" fill="#1e1e1e" stroke="#1e1e1e" stroke-width="0.15" text-anchor="start" textLength="29.5" lengthAdjust="spacingAndGlyphs" >VMT-10</text>
<rect x="23.7" y="226.8" width="232.10" height="187.60" fill="none" stroke="#2e2e2e" stroke-width="1.5"/>
<text x="19.70" y="426.00" font-size="8.3" font-family="Liberation Serif, serif" fill="#3c3c3c" stroke="#3c3c3c" stroke-width="0.12" text-anchor="middle">0</text>
<text x="21.78" y="426.00" font-size="8.3" font-family="Liberation Serif, serif" fill="#3c3c3c" stroke="#3c3c3c" stroke-width="0.12">.</text>
<text x="27.70" y="426.00" font-size="8.3" font-family="Liberation Serif, serif" fill="#3c3c3c" stroke="#3c3c3c" stroke-width="0.12" text-anchor="middle">0</text>
<line x1="70.12" y1="414.40" x2="70.12" y2="411.80" stroke="#2e2e2e" stroke-width="1.0" />
<text x="66.12" y="426.00" font-size="8.3" font-family="Liberation Serif, serif" fill="#3c3c3c" stroke="#3c3c3c" stroke-width="0.12" text-anchor="middle">0</text>
<text x="68.20" y="426.00" font-size="8.3" font-family="Liberation Serif, serif" fill="#3c3c3c" stroke="#3c3c3c" stroke-width="0.12">.</text>
<text x="74.12" y="426.00" font-size="8.3" font-family="Liberation Serif, serif" fill="#3c3c3c" stroke="#3c3c3c" stroke-width="0.12" text-anchor="middle">2</text>
<line x1="116.54" y1="414.40" x2="116.54" y2="411.80" stroke="#2e2e2e" stroke-width="1.0" />
<text x="112.54" y="426.00" font-size="8.3" font-family="Liberation Serif, serif" fill="#3c3c3c" stroke="#3c3c3c" stroke-width="0.12" text-anchor="middle">0</text>
<text x="114.62" y="426.00" font-size="8.3" font-family="Liberation Serif, serif" fill="#3c3c3c" stroke="#3c3c3c" stroke-width="0.12">.</text>
<text x="120.54" y="426.00" font-size="8.3" font-family="Liberation Serif, serif" fill="#3c3c3c" stroke="#3c3c3c" stroke-width="0.12" text-anchor="middle">4</text>
<line x1="162.96" y1="414.40" x2="162.96" y2="411.80" stroke="#2e2e2e" stroke-width="1.0" />
<text x="158.96" y="426.00" font-size="8.3" font-family="Liberation Serif, serif" fill="#3c3c3c" stroke="#3c3c3c" stroke-width="0.12" text-anchor="middle">0</text>
<text x="161.04" y="426.00" font-size="8.3" font-family="Liberation Serif, serif" fill="#3c3c3c" stroke="#3c3c3c" stroke-width="0.12">.</text>
<text x="166.96" y="426.00" font-size="8.3" font-family="Liberation Serif, serif" fill="#3c3c3c" stroke="#3c3c3c" stroke-width="0.12" text-anchor="middle">6</text>
<line x1="209.38" y1="414.40" x2="209.38" y2="411.80" stroke="#2e2e2e" stroke-width="1.0" />
<text x="205.38" y="426.00" font-size="8.3" font-family="Liberation Serif, serif" fill="#3c3c3c" stroke="#3c3c3c" stroke-width="0.12" text-anchor="middle">0</text>
<text x="207.46" y="426.00" font-size="8.3" font-family="Liberation Serif, serif" fill="#3c3c3c" stroke="#3c3c3c" stroke-width="0.12">.</text>
<text x="213.38" y="426.00" font-size="8.3" font-family="Liberation Serif, serif" fill="#3c3c3c" stroke="#3c3c3c" stroke-width="0.12" text-anchor="middle">8</text>
<text x="251.80" y="426.00" font-size="8.3" font-family="Liberation Serif, serif" fill="#3c3c3c" stroke="#3c3c3c" stroke-width="0.12" text-anchor="middle">1</text>
<text x="253.88" y="426.00" font-size="8.3" font-family="Liberation Serif, serif" fill="#3c3c3c" stroke="#3c3c3c" stroke-width="0.12">.</text>
<text x="259.80" y="426.00" font-size="8.3" font-family="Liberation Serif, serif" fill="#3c3c3c" stroke="#3c3c3c" stroke-width="0.12" text-anchor="middle">0</text>
<polyline points="29.00,405.10 31.81,404.46 34.62,404.02 37.42,403.64 40.23,403.28 43.04,402.95 45.85,402.64 48.65,402.33 51.46,402.04 54.27,401.76 57.08,401.49 59.88,401.22 62.69,400.96 65.50,400.70 92.30,398.80 102.60,397.70 113.10,396.20 123.30,395.10 133.10,393.60 143.00,392.50 153.40,391.40 163.70,390.10 173.00,388.20 183.10,385.90 192.90,383.10 202.40,378.70 213.10,370.20 223.00,357.40 233.30,338.60 238.30,323.50 243.40,304.00 252.70,268.30 253.60,260.80" fill="none" stroke="#2c2cc4" stroke-width="1.4" stroke-linejoin="round" />
<polyline points="46.80,402.00 58.30,400.50 69.80,398.60 81.40,397.30 92.80,395.80 104.30,394.50 116.10,392.50 128.10,391.00 139.70,389.20 151.30,387.00 160.90,385.30 172.60,383.00 185.20,379.10 197.90,371.60 202.80,366.90 232.00,313.80 238.00,289.20 242.80,277.90 249.10,268.00 254.50,256.30" fill="none" stroke="#ff5050" stroke-width="1.2" stroke-linejoin="round" stroke-dasharray="3.5,2.2"/>
<rect x="26.45" y="402.55" width="5.1" height="5.1" fill="#1a6ee6"/>
<rect x="29.26" y="401.91" width="5.1" height="5.1" fill="#1a6ee6"/>
<rect x="32.07" y="401.47" width="5.1" height="5.1" fill="#1a6ee6"/>
<rect x="34.87" y="401.09" width="5.1" height="5.1" fill="#1a6ee6"/>
<rect x="37.68" y="400.73" width="5.1" height="5.1" fill="#1a6ee6"/>
<rect x="40.49" y="400.40" width="5.1" height="5.1" fill="#1a6ee6"/>
<rect x="43.30" y="400.09" width="5.1" height="5.1" fill="#1a6ee6"/>
<rect x="46.10" y="399.78" width="5.1" height="5.1" fill="#1a6ee6"/>
<rect x="48.91" y="399.49" width="5.1" height="5.1" fill="#1a6ee6"/>
<rect x="51.72" y="399.21" width="5.1" height="5.1" fill="#1a6ee6"/>
<rect x="54.53" y="398.94" width="5.1" height="5.1" fill="#1a6ee6"/>
<rect x="57.33" y="398.67" width="5.1" height="5.1" fill="#1a6ee6"/>
<rect x="60.14" y="398.41" width="5.1" height="5.1" fill="#1a6ee6"/>
<rect x="62.95" y="398.15" width="5.1" height="5.1" fill="#1a6ee6"/>
<rect x="89.75" y="396.25" width="5.1" height="5.1" fill="#1a6ee6"/>
<rect x="100.05" y="395.15" width="5.1" height="5.1" fill="#1a6ee6"/>
<rect x="110.55" y="393.65" width="5.1" height="5.1" fill="#1a6ee6"/>
<rect x="120.75" y="392.55" width="5.1" height="5.1" fill="#1a6ee6"/>
<rect x="130.55" y="391.05" width="5.1" height="5.1" fill="#1a6ee6"/>
<rect x="140.45" y="389.95" width="5.1" height="5.1" fill="#1a6ee6"/>
<rect x="150.85" y="388.85" width="5.1" height="5.1" fill="#1a6ee6"/>
<rect x="161.15" y="387.55" width="5.1" height="5.1" fill="#1a6ee6"/>
<rect x="170.45" y="385.65" width="5.1" height="5.1" fill="#1a6ee6"/>
<rect x="180.55" y="383.35" width="5.1" height="5.1" fill="#1a6ee6"/>
<rect x="190.35" y="380.55" width="5.1" height="5.1" fill="#1a6ee6"/>
<rect x="199.85" y="376.15" width="5.1" height="5.1" fill="#1a6ee6"/>
<rect x="210.55" y="367.65" width="5.1" height="5.1" fill="#1a6ee6"/>
<rect x="220.45" y="354.85" width="5.1" height="5.1" fill="#1a6ee6"/>
<rect x="230.75" y="336.05" width="5.1" height="5.1" fill="#1a6ee6"/>
<rect x="235.75" y="320.95" width="5.1" height="5.1" fill="#1a6ee6"/>
<rect x="240.85" y="301.45" width="5.1" height="5.1" fill="#1a6ee6"/>
<rect x="250.15" y="265.75" width="5.1" height="5.1" fill="#1a6ee6"/>
<rect x="251.05" y="258.25" width="5.1" height="5.1" fill="#1a6ee6"/>
<circle cx="46.80" cy="402.00" r="2.3" fill="#fff" stroke="#f5821f" stroke-width="1.4"/>
<circle cx="58.30" cy="400.50" r="2.3" fill="#fff" stroke="#f5821f" stroke-width="1.4"/>
<circle cx="69.80" cy="398.60" r="2.3" fill="#fff" stroke="#f5821f" stroke-width="1.4"/>
<circle cx="81.40" cy="397.30" r="2.3" fill="#fff" stroke="#f5821f" stroke-width="1.4"/>
<circle cx="92.80" cy="395.80" r="2.3" fill="#fff" stroke="#f5821f" stroke-width="1.4"/>
<circle cx="104.30" cy="394.50" r="2.3" fill="#fff" stroke="#f5821f" stroke-width="1.4"/>
<circle cx="116.10" cy="392.50" r="2.3" fill="#fff" stroke="#f5821f" stroke-width="1.4"/>
<circle cx="128.10" cy="391.00" r="2.3" fill="#fff" stroke="#f5821f" stroke-width="1.4"/>
<circle cx="139.70" cy="389.20" r="2.3" fill="#fff" stroke="#f5821f" stroke-width="1.4"/>
<circle cx="151.30" cy="387.00" r="2.3" fill="#fff" stroke="#f5821f" stroke-width="1.4"/>
<circle cx="160.90" cy="385.30" r="2.3" fill="#fff" stroke="#f5821f" stroke-width="1.4"/>
<circle cx="172.60" cy="383.00" r="2.3" fill="#fff" stroke="#f5821f" stroke-width="1.4"/>
<circle cx="185.20" cy="379.10" r="2.3" fill="#fff" stroke="#f5821f" stroke-width="1.4"/>
<circle cx="197.90" cy="371.60" r="2.3" fill="#fff" stroke="#f5821f" stroke-width="1.4"/>
<circle cx="202.80" cy="366.90" r="2.3" fill="#fff" stroke="#f5821f" stroke-width="1.4"/>
<circle cx="232.00" cy="313.80" r="2.3" fill="#fff" stroke="#f5821f" stroke-width="1.4"/>
<circle cx="238.00" cy="289.20" r="2.3" fill="#fff" stroke="#f5821f" stroke-width="1.4"/>
<circle cx="242.80" cy="277.90" r="2.3" fill="#fff" stroke="#f5821f" stroke-width="1.4"/>
<circle cx="249.10" cy="268.00" r="2.3" fill="#fff" stroke="#f5821f" stroke-width="1.4"/>
<circle cx="254.50" cy="256.30" r="2.3" fill="#fff" stroke="#f5821f" stroke-width="1.4"/>
<text x="27.20" y="240.60" font-size="15.5" font-family="Liberation Serif, serif" fill="#1e1e1e" stroke="#1e1e1e" stroke-width="0.15" text-anchor="start" textLength="15.8" lengthAdjust="spacingAndGlyphs" >(c)</text>
<line x1="61.10" y1="237.90" x2="81.20" y2="237.90" stroke="#2c2cc4" stroke-width="1.2" />
<rect x="68.55" y="235.30" width="5.2" height="5.2" fill="#1a6ee6" stroke="#fff" stroke-width="0.7"/>
<text x="86.00" y="241.70" font-size="10" font-family="Liberation Serif, serif" fill="#3c3c3c" stroke="#3c3c3c" stroke-width="0.12" textLength="4.75" lengthAdjust="spacingAndGlyphs">A</text>
<text x="93.32" y="241.70" font-size="10" font-family="Liberation Serif, serif" fill="#3c3c3c" stroke="#3c3c3c" stroke-width="0.12" text-anchor="middle">b</text>
<text x="98.27" y="241.70" font-size="10" font-family="Liberation Serif, serif" fill="#3c3c3c" stroke="#3c3c3c" stroke-width="0.12" text-anchor="middle">s</text>
<text x="103.22" y="241.70" font-size="10" font-family="Liberation Serif, serif" fill="#3c3c3c" stroke="#3c3c3c" stroke-width="0.12" text-anchor="middle">o</text>
<text x="108.17" y="241.70" font-size="10" font-family="Liberation Serif, serif" fill="#3c3c3c" stroke="#3c3c3c" stroke-width="0.12" text-anchor="middle">r</text>
<text x="113.12" y="241.70" font-size="10" font-family="Liberation Serif, serif" fill="#3c3c3c" stroke="#3c3c3c" stroke-width="0.12" text-anchor="middle">p</text>
<text x="118.07" y="241.70" font-size="10" font-family="Liberation Serif, serif" fill="#3c3c3c" stroke="#3c3c3c" stroke-width="0.12" text-anchor="middle">t</text>
<text x="123.02" y="241.70" font-size="10" font-family="Liberation Serif, serif" fill="#3c3c3c" stroke="#3c3c3c" stroke-width="0.12" text-anchor="middle">i</text>
<text x="127.97" y="241.70" font-size="10" font-family="Liberation Serif, serif" fill="#3c3c3c" stroke="#3c3c3c" stroke-width="0.12" text-anchor="middle">o</text>
<text x="132.92" y="241.70" font-size="10" font-family="Liberation Serif, serif" fill="#3c3c3c" stroke="#3c3c3c" stroke-width="0.12" text-anchor="middle">n</text>
<line x1="148.60" y1="237.90" x2="151.90" y2="237.90" stroke="#ff5050" stroke-width="1.1" />
<line x1="161.40" y1="237.90" x2="165.00" y2="237.90" stroke="#ff5050" stroke-width="1.1" />
<circle cx="158.30" cy="237.90" r="2.3" fill="#fff" stroke="#f5821f" stroke-width="1.4"/>
<text x="173.20" y="241.70" font-size="10" font-family="Liberation Serif, serif" fill="#3c3c3c" stroke="#3c3c3c" stroke-width="0.12" textLength="4.75" lengthAdjust="spacingAndGlyphs">D</text>
<text x="180.53" y="241.70" font-size="10" font-family="Liberation Serif, serif" fill="#3c3c3c" stroke="#3c3c3c" stroke-width="0.12" text-anchor="middle">e</text>
<text x="185.47" y="241.70" font-size="10" font-family="Liberation Serif, serif" fill="#3c3c3c" stroke="#3c3c3c" stroke-width="0.12" text-anchor="middle">s</text>
<text x="190.42" y="241.70" font-size="10" font-family="Liberation Serif, serif" fill="#3c3c3c" stroke="#3c3c3c" stroke-width="0.12" text-anchor="middle">o</text>
<text x="195.38" y="241.70" font-size="10" font-family="Liberation Serif, serif" fill="#3c3c3c" stroke="#3c3c3c" stroke-width="0.12" text-anchor="middle">r</text>
<text x="200.32" y="241.70" font-size="10" font-family="Liberation Serif, serif" fill="#3c3c3c" stroke="#3c3c3c" stroke-width="0.12" text-anchor="middle">p</text>
<text x="205.28" y="241.70" font-size="10" font-family="Liberation Serif, serif" fill="#3c3c3c" stroke="#3c3c3c" stroke-width="0.12" text-anchor="middle">t</text>
<text x="210.22" y="241.70" font-size="10" font-family="Liberation Serif, serif" fill="#3c3c3c" stroke="#3c3c3c" stroke-width="0.12" text-anchor="middle">i</text>
<text x="215.18" y="241.70" font-size="10" font-family="Liberation Serif, serif" fill="#3c3c3c" stroke="#3c3c3c" stroke-width="0.12" text-anchor="middle">o</text>
<text x="220.12" y="241.70" font-size="10" font-family="Liberation Serif, serif" fill="#3c3c3c" stroke="#3c3c3c" stroke-width="0.12" text-anchor="middle">n</text>
<text transform="translate(16.00,376.00) rotate(-90)" font-size="10.6" font-family="Liberation Serif, serif" fill="#1e1e1e" stroke="#1e1e1e" stroke-width="0.15" textLength="111.5" lengthAdjust="spacingAndGlyphs">Volume absorbed /(cm<tspan font-size="6.8" dy="-4.4">3</tspan><tspan dy="4.4">·g</tspan><tspan font-size="6.8" dy="-4.4">−1</tspan><tspan dy="4.4">)</tspan></text>
<text x="92.00" y="438.60" font-size="10.3" font-family="Liberation Serif, serif" fill="#1e1e1e" stroke="#1e1e1e" stroke-width="0.15" text-anchor="start" textLength="96.5" lengthAdjust="spacingAndGlyphs" >Relative pressure /(P/P<tspan font-size="6.8" dy="3.3">0</tspan><tspan dy="-3.3">)</tspan></text>
<rect x="60.5" y="249.0" width="136.40" height="107.40" fill="#fff" stroke="none"/>
<line x1="60.50" y1="350.20" x2="63.30" y2="350.20" stroke="#2e2e2e" stroke-width="1.0" />
<line x1="60.50" y1="344.24" x2="62.20" y2="344.24" stroke="#2e2e2e" stroke-width="0.9" />
<text x="46.98" y="353.50" font-size="7.6" font-family="Liberation Serif, serif" fill="#505050" stroke="#505050" stroke-width="0.2" textLength="3.04" lengthAdjust="spacingAndGlyphs">0</text>
<text x="50.37" y="353.50" font-size="7.6" font-family="Liberation Serif, serif" fill="#505050" stroke="#505050" stroke-width="0.2">.</text>
<text x="54.18" y="353.50" font-size="7.6" font-family="Liberation Serif, serif" fill="#505050" stroke="#505050" stroke-width="0.2" textLength="3.04" lengthAdjust="spacingAndGlyphs">0</text>
<line x1="60.50" y1="338.27" x2="63.30" y2="338.27" stroke="#2e2e2e" stroke-width="1.0" />
<line x1="60.50" y1="332.31" x2="62.20" y2="332.31" stroke="#2e2e2e" stroke-width="0.9" />
<text x="46.98" y="341.57" font-size="7.6" font-family="Liberation Serif, serif" fill="#505050" stroke="#505050" stroke-width="0.2" textLength="3.04" lengthAdjust="spacingAndGlyphs">0</text>
<text x="50.37" y="341.57" font-size="7.6" font-family="Liberation Serif, serif" fill="#505050" stroke="#505050" stroke-width="0.2">.</text>
<text x="54.18" y="341.57" font-size="7.6" font-family="Liberation Serif, serif" fill="#505050" stroke="#505050" stroke-width="0.2" textLength="3.04" lengthAdjust="spacingAndGlyphs">1</text>
<line x1="60.50" y1="326.34" x2="63.30" y2="326.34" stroke="#2e2e2e" stroke-width="1.0" />
<line x1="60.50" y1="320.38" x2="62.20" y2="320.38" stroke="#2e2e2e" stroke-width="0.9" />
<text x="46.98" y="329.64" font-size="7.6" font-family="Liberation Serif, serif" fill="#505050" stroke="#505050" stroke-width="0.2" textLength="3.04" lengthAdjust="spacingAndGlyphs">0</text>
<text x="50.37" y="329.64" font-size="7.6" font-family="Liberation Serif, serif" fill="#505050" stroke="#505050" stroke-width="0.2">.</text>
<text x="54.18" y="329.64" font-size="7.6" font-family="Liberation Serif, serif" fill="#505050" stroke="#505050" stroke-width="0.2" textLength="3.04" lengthAdjust="spacingAndGlyphs">2</text>
<line x1="60.50" y1="314.41" x2="63.30" y2="314.41" stroke="#2e2e2e" stroke-width="1.0" />
<line x1="60.50" y1="308.44" x2="62.20" y2="308.44" stroke="#2e2e2e" stroke-width="0.9" />
<text x="46.98" y="317.71" font-size="7.6" font-family="Liberation Serif, serif" fill="#505050" stroke="#505050" stroke-width="0.2" textLength="3.04" lengthAdjust="spacingAndGlyphs">0</text>
<text x="50.37" y="317.71" font-size="7.6" font-family="Liberation Serif, serif" fill="#505050" stroke="#505050" stroke-width="0.2">.</text>
<text x="54.18" y="317.71" font-size="7.6" font-family="Liberation Serif, serif" fill="#505050" stroke="#505050" stroke-width="0.2" textLength="3.04" lengthAdjust="spacingAndGlyphs">3</text>
<line x1="60.50" y1="302.48" x2="63.30" y2="302.48" stroke="#2e2e2e" stroke-width="1.0" />
<line x1="60.50" y1="296.52" x2="62.20" y2="296.52" stroke="#2e2e2e" stroke-width="0.9" />
<text x="46.98" y="305.78" font-size="7.6" font-family="Liberation Serif, serif" fill="#505050" stroke="#505050" stroke-width="0.2" textLength="3.04" lengthAdjust="spacingAndGlyphs">0</text>
<text x="50.37" y="305.78" font-size="7.6" font-family="Liberation Serif, serif" fill="#505050" stroke="#505050" stroke-width="0.2">.</text>
<text x="54.18" y="305.78" font-size="7.6" font-family="Liberation Serif, serif" fill="#505050" stroke="#505050" stroke-width="0.2" textLength="3.04" lengthAdjust="spacingAndGlyphs">4</text>
<line x1="60.50" y1="290.55" x2="63.30" y2="290.55" stroke="#2e2e2e" stroke-width="1.0" />
<line x1="60.50" y1="284.59" x2="62.20" y2="284.59" stroke="#2e2e2e" stroke-width="0.9" />
<text x="46.98" y="293.85" font-size="7.6" font-family="Liberation Serif, serif" fill="#505050" stroke="#505050" stroke-width="0.2" textLength="3.04" lengthAdjust="spacingAndGlyphs">0</text>
<text x="50.37" y="293.85" font-size="7.6" font-family="Liberation Serif, serif" fill="#505050" stroke="#505050" stroke-width="0.2">.</text>
<text x="54.18" y="293.85" font-size="7.6" font-family="Liberation Serif, serif" fill="#505050" stroke="#505050" stroke-width="0.2" textLength="3.04" lengthAdjust="spacingAndGlyphs">5</text>
<line x1="60.50" y1="278.62" x2="63.30" y2="278.62" stroke="#2e2e2e" stroke-width="1.0" />
<line x1="60.50" y1="272.66" x2="62.20" y2="272.66" stroke="#2e2e2e" stroke-width="0.9" />
<text x="46.98" y="281.92" font-size="7.6" font-family="Liberation Serif, serif" fill="#505050" stroke="#505050" stroke-width="0.2" textLength="3.04" lengthAdjust="spacingAndGlyphs">0</text>
<text x="50.37" y="281.92" font-size="7.6" font-family="Liberation Serif, serif" fill="#505050" stroke="#505050" stroke-width="0.2">.</text>
<text x="54.18" y="281.92" font-size="7.6" font-family="Liberation Serif, serif" fill="#505050" stroke="#505050" stroke-width="0.2" textLength="3.04" lengthAdjust="spacingAndGlyphs">6</text>
<line x1="60.50" y1="266.69" x2="63.30" y2="266.69" stroke="#2e2e2e" stroke-width="1.0" />
<line x1="60.50" y1="260.73" x2="62.20" y2="260.73" stroke="#2e2e2e" stroke-width="0.9" />
<text x="46.98" y="269.99" font-size="7.6" font-family="Liberation Serif, serif" fill="#505050" stroke="#505050" stroke-width="0.2" textLength="3.04" lengthAdjust="spacingAndGlyphs">0</text>
<text x="50.37" y="269.99" font-size="7.6" font-family="Liberation Serif, serif" fill="#505050" stroke="#505050" stroke-width="0.2">.</text>
<text x="54.18" y="269.99" font-size="7.6" font-family="Liberation Serif, serif" fill="#505050" stroke="#505050" stroke-width="0.2" textLength="3.04" lengthAdjust="spacingAndGlyphs">7</text>
<line x1="60.50" y1="254.76" x2="63.30" y2="254.76" stroke="#2e2e2e" stroke-width="1.0" />
<text x="46.98" y="258.06" font-size="7.6" font-family="Liberation Serif, serif" fill="#505050" stroke="#505050" stroke-width="0.2" textLength="3.04" lengthAdjust="spacingAndGlyphs">0</text>
<text x="50.37" y="258.06" font-size="7.6" font-family="Liberation Serif, serif" fill="#505050" stroke="#505050" stroke-width="0.2">.</text>
<text x="54.18" y="258.06" font-size="7.6" font-family="Liberation Serif, serif" fill="#505050" stroke="#505050" stroke-width="0.2" textLength="3.04" lengthAdjust="spacingAndGlyphs">8</text>
<line x1="74.10" y1="356.40" x2="74.10" y2="353.60" stroke="#2e2e2e" stroke-width="1.0" />
<line x1="87.76" y1="356.40" x2="87.76" y2="354.70" stroke="#2e2e2e" stroke-width="0.9" />
<text x="72.58" y="365.80" font-size="7.6" font-family="Liberation Serif, serif" fill="#505050" stroke="#505050" stroke-width="0.2" textLength="3.04" lengthAdjust="spacingAndGlyphs">0</text>
<line x1="101.43" y1="356.40" x2="101.43" y2="353.60" stroke="#2e2e2e" stroke-width="1.0" />
<line x1="115.09" y1="356.40" x2="115.09" y2="354.70" stroke="#2e2e2e" stroke-width="0.9" />
<text x="98.11" y="365.80" font-size="7.6" font-family="Liberation Serif, serif" fill="#505050" stroke="#505050" stroke-width="0.2" textLength="3.04" lengthAdjust="spacingAndGlyphs">5</text>
<text x="101.71" y="365.80" font-size="7.6" font-family="Liberation Serif, serif" fill="#505050" stroke="#505050" stroke-width="0.2" textLength="3.04" lengthAdjust="spacingAndGlyphs">0</text>
<line x1="128.76" y1="356.40" x2="128.76" y2="353.60" stroke="#2e2e2e" stroke-width="1.0" />
<line x1="142.42" y1="356.40" x2="142.42" y2="354.70" stroke="#2e2e2e" stroke-width="0.9" />
<text x="123.64" y="365.80" font-size="7.6" font-family="Liberation Serif, serif" fill="#505050" stroke="#505050" stroke-width="0.2" textLength="3.04" lengthAdjust="spacingAndGlyphs">1</text>
<text x="127.24" y="365.80" font-size="7.6" font-family="Liberation Serif, serif" fill="#505050" stroke="#505050" stroke-width="0.2" textLength="3.04" lengthAdjust="spacingAndGlyphs">0</text>
<text x="130.84" y="365.80" font-size="7.6" font-family="Liberation Serif, serif" fill="#505050" stroke="#505050" stroke-width="0.2" textLength="3.04" lengthAdjust="spacingAndGlyphs">0</text>
<line x1="156.09" y1="356.40" x2="156.09" y2="353.60" stroke="#2e2e2e" stroke-width="1.0" />
<line x1="169.75" y1="356.40" x2="169.75" y2="354.70" stroke="#2e2e2e" stroke-width="0.9" />
<text x="150.97" y="365.80" font-size="7.6" font-family="Liberation Serif, serif" fill="#505050" stroke="#505050" stroke-width="0.2" textLength="3.04" lengthAdjust="spacingAndGlyphs">1</text>
<text x="154.57" y="365.80" font-size="7.6" font-family="Liberation Serif, serif" fill="#505050" stroke="#505050" stroke-width="0.2" textLength="3.04" lengthAdjust="spacingAndGlyphs">5</text>
<text x="158.17" y="365.80" font-size="7.6" font-family="Liberation Serif, serif" fill="#505050" stroke="#505050" stroke-width="0.2" textLength="3.04" lengthAdjust="spacingAndGlyphs">0</text>
<line x1="183.42" y1="356.40" x2="183.42" y2="353.60" stroke="#2e2e2e" stroke-width="1.0" />
<text x="178.30" y="365.80" font-size="7.6" font-family="Liberation Serif, serif" fill="#505050" stroke="#505050" stroke-width="0.2" textLength="3.04" lengthAdjust="spacingAndGlyphs">2</text>
<text x="181.90" y="365.80" font-size="7.6" font-family="Liberation Serif, serif" fill="#505050" stroke="#505050" stroke-width="0.2" textLength="3.04" lengthAdjust="spacingAndGlyphs">0</text>
<text x="185.50" y="365.80" font-size="7.6" font-family="Liberation Serif, serif" fill="#505050" stroke="#505050" stroke-width="0.2" textLength="3.04" lengthAdjust="spacingAndGlyphs">0</text>
<rect x="60.5" y="249.0" width="136.40" height="107.40" fill="none" stroke="#2e2e2e" stroke-width="1.2"/>
<text x="96.00" y="376.50" font-size="9.0" font-family="Liberation Serif, serif" fill="#1e1e1e" stroke="#1e1e1e" stroke-width="0.15" text-anchor="start" textLength="65.5" lengthAdjust="spacingAndGlyphs" >Pore Diameter /nm</text>
<text transform="translate(44.00,347.80) rotate(-90)" font-size="10" font-family="Liberation Serif, serif" fill="#1e1e1e" stroke="#1e1e1e" stroke-width="0.15" textLength="92.5" lengthAdjust="spacingAndGlyphs">Pore Volume /(cm<tspan font-size="6.5" dy="-3.5">3</tspan><tspan dy="3.5">g·nm</tspan><tspan font-size="6.5" dy="-3.5">−1</tspan><tspan dy="3.5">)</tspan></text>
<polyline points="74.32,257.74 74.54,262.92 74.77,268.09 74.99,273.26 75.22,278.44 75.44,283.61 75.66,288.78 75.88,293.95 76.11,299.13 76.33,304.31 76.55,309.47 76.78,314.65 77.11,325.98 77.54,328.13 78.04,330.40 78.69,332.66 79.57,334.45 80.99,336.12 83.23,338.51 86.95,340.30 90.61,342.21 99.02,344.95 166.48,347.69" fill="none" stroke="#ee3038" stroke-width="0.8" stroke-linejoin="round" />
<polygon points="74.32,254.94 77.02,259.61 71.62,259.61" fill="#ee3038"/>
<polygon points="74.54,260.11 77.24,264.79 71.84,264.79" fill="#ee3038"/>
<polygon points="74.77,265.28 77.47,269.96 72.07,269.96" fill="#ee3038"/>
<polygon points="74.99,270.46 77.69,275.13 72.29,275.13" fill="#ee3038"/>
<polygon points="75.22,275.64 77.92,280.31 72.52,280.31" fill="#ee3038"/>
<polygon points="75.44,280.80 78.14,285.48 72.74,285.48" fill="#ee3038"/>
<polygon points="75.66,285.98 78.36,290.65 72.96,290.65" fill="#ee3038"/>
<polygon points="75.88,291.14 78.58,295.82 73.18,295.82" fill="#ee3038"/>
<polygon points="76.11,296.32 78.81,301.00 73.41,301.00" fill="#ee3038"/>
<polygon points="76.33,301.50 79.03,306.18 73.63,306.18" fill="#ee3038"/>
<polygon points="76.55,306.67 79.25,311.34 73.85,311.34" fill="#ee3038"/>
<polygon points="76.78,311.84 79.48,316.52 74.08,316.52" fill="#ee3038"/>
<polygon points="77.11,323.18 79.81,327.85 74.41,327.85" fill="#ee3038"/>
<polygon points="77.54,325.32 80.24,330.00 74.84,330.00" fill="#ee3038"/>
<polygon points="78.04,327.59 80.74,332.27 75.34,332.27" fill="#ee3038"/>
<polygon points="78.69,329.86 81.39,334.53 75.99,334.53" fill="#ee3038"/>
<polygon points="79.57,331.65 82.27,336.32 76.87,336.32" fill="#ee3038"/>
<polygon points="80.99,333.32 83.69,337.99 78.29,337.99" fill="#ee3038"/>
<polygon points="83.23,335.70 85.93,340.38 80.53,340.38" fill="#ee3038"/>
<polygon points="86.95,337.49 89.65,342.17 84.25,342.17" fill="#ee3038"/>
<polygon points="90.61,339.40 93.31,344.08 87.91,344.08" fill="#ee3038"/>
<polygon points="99.02,342.14 101.72,346.82 96.32,346.82" fill="#ee3038"/>
<polygon points="166.48,344.89 169.18,349.57 163.78,349.57" fill="#ee3038"/>
<line x1="122.00" y1="302.30" x2="141.60" y2="302.30" stroke="#ee3038" stroke-width="1.0" />
<polygon points="132.30,299.70 134.80,304.03 129.80,304.03" fill="#ee3038"/>
<text x="144.70" y="305.90" font-size="8.6" font-family="Liberation Serif, serif" fill="#1e1e1e" stroke="#1e1e1e" stroke-width="0.15" text-anchor="start" textLength="45.3" lengthAdjust="spacingAndGlyphs" >1CoVMT-10</text>
<rect x="313.0" y="227.4" width="232.50" height="188.10" fill="none" stroke="#2e2e2e" stroke-width="1.5"/>
<line x1="313.00" y1="404.90" x2="316.80" y2="404.90" stroke="#2e2e2e" stroke-width="1.1" />
<line x1="313.00" y1="394.50" x2="315.20" y2="394.50" stroke="#2e2e2e" stroke-width="1.0" />
<text x="297.15" y="408.00" font-size="8.8" font-family="Liberation Serif, serif" fill="#505050" stroke="#505050" stroke-width="0.15" textLength="3.74" lengthAdjust="spacingAndGlyphs">0</text>
<text x="301.18" y="408.00" font-size="8.8" font-family="Liberation Serif, serif" fill="#505050" stroke="#505050" stroke-width="0.15">.</text>
<text x="305.45" y="408.00" font-size="8.8" font-family="Liberation Serif, serif" fill="#505050" stroke="#505050" stroke-width="0.15" textLength="3.74" lengthAdjust="spacingAndGlyphs">0</text>
<line x1="313.00" y1="384.10" x2="316.80" y2="384.10" stroke="#2e2e2e" stroke-width="1.1" />
<line x1="313.00" y1="373.70" x2="315.20" y2="373.70" stroke="#2e2e2e" stroke-width="1.0" />
<text x="297.15" y="387.20" font-size="8.8" font-family="Liberation Serif, serif" fill="#505050" stroke="#505050" stroke-width="0.15" textLength="3.74" lengthAdjust="spacingAndGlyphs">0</text>
<text x="301.18" y="387.20" font-size="8.8" font-family="Liberation Serif, serif" fill="#505050" stroke="#505050" stroke-width="0.15">.</text>
<text x="305.45" y="387.20" font-size="8.8" font-family="Liberation Serif, serif" fill="#505050" stroke="#505050" stroke-width="0.15" textLength="3.74" lengthAdjust="spacingAndGlyphs">1</text>
<line x1="313.00" y1="363.30" x2="316.80" y2="363.30" stroke="#2e2e2e" stroke-width="1.1" />
<line x1="313.00" y1="352.90" x2="315.20" y2="352.90" stroke="#2e2e2e" stroke-width="1.0" />
<text x="297.15" y="366.40" font-size="8.8" font-family="Liberation Serif, serif" fill="#505050" stroke="#505050" stroke-width="0.15" textLength="3.74" lengthAdjust="spacingAndGlyphs">0</text>
<text x="301.18" y="366.40" font-size="8.8" font-family="Liberation Serif, serif" fill="#505050" stroke="#505050" stroke-width="0.15">.</text>
<text x="305.45" y="366.40" font-size="8.8" font-family="Liberation Serif, serif" fill="#505050" stroke="#505050" stroke-width="0.15" textLength="3.74" lengthAdjust="spacingAndGlyphs">2</text>
<line x1="313.00" y1="342.50" x2="316.80" y2="342.50" stroke="#2e2e2e" stroke-width="1.1" />
<line x1="313.00" y1="332.10" x2="315.20" y2="332.10" stroke="#2e2e2e" stroke-width="1.0" />
<text x="297.15" y="345.60" font-size="8.8" font-family="Liberation Serif, serif" fill="#505050" stroke="#505050" stroke-width="0.15" textLength="3.74" lengthAdjust="spacingAndGlyphs">0</text>
<text x="301.18" y="345.60" font-size="8.8" font-family="Liberation Serif, serif" fill="#505050" stroke="#505050" stroke-width="0.15">.</text>
<text x="305.45" y="345.60" font-size="8.8" font-family="Liberation Serif, serif" fill="#505050" stroke="#505050" stroke-width="0.15" textLength="3.74" lengthAdjust="spacingAndGlyphs">3</text>
<line x1="313.00" y1="321.70" x2="316.80" y2="321.70" stroke="#2e2e2e" stroke-width="1.1" />
<line x1="313.00" y1="311.30" x2="315.20" y2="311.30" stroke="#2e2e2e" stroke-width="1.0" />
<text x="297.15" y="324.80" font-size="8.8" font-family="Liberation Serif, serif" fill="#505050" stroke="#505050" stroke-width="0.15" textLength="3.74" lengthAdjust="spacingAndGlyphs">0</text>
<text x="301.18" y="324.80" font-size="8.8" font-family="Liberation Serif, serif" fill="#505050" stroke="#505050" stroke-width="0.15">.</text>
<text x="305.45" y="324.80" font-size="8.8" font-family="Liberation Serif, serif" fill="#505050" stroke="#505050" stroke-width="0.15" textLength="3.74" lengthAdjust="spacingAndGlyphs">4</text>
<line x1="313.00" y1="300.90" x2="316.80" y2="300.90" stroke="#2e2e2e" stroke-width="1.1" />
<line x1="313.00" y1="290.50" x2="315.20" y2="290.50" stroke="#2e2e2e" stroke-width="1.0" />
<text x="297.15" y="304.00" font-size="8.8" font-family="Liberation Serif, serif" fill="#505050" stroke="#505050" stroke-width="0.15" textLength="3.74" lengthAdjust="spacingAndGlyphs">0</text>
<text x="301.18" y="304.00" font-size="8.8" font-family="Liberation Serif, serif" fill="#505050" stroke="#505050" stroke-width="0.15">.</text>
<text x="305.45" y="304.00" font-size="8.8" font-family="Liberation Serif, serif" fill="#505050" stroke="#505050" stroke-width="0.15" textLength="3.74" lengthAdjust="spacingAndGlyphs">5</text>
<line x1="313.00" y1="280.10" x2="316.80" y2="280.10" stroke="#2e2e2e" stroke-width="1.1" />
<line x1="313.00" y1="269.70" x2="315.20" y2="269.70" stroke="#2e2e2e" stroke-width="1.0" />
<text x="297.15" y="283.20" font-size="8.8" font-family="Liberation Serif, serif" fill="#505050" stroke="#505050" stroke-width="0.15" textLength="3.74" lengthAdjust="spacingAndGlyphs">0</text>
<text x="301.18" y="283.20" font-size="8.8" font-family="Liberation Serif, serif" fill="#505050" stroke="#505050" stroke-width="0.15">.</text>
<text x="305.45" y="283.20" font-size="8.8" font-family="Liberation Serif, serif" fill="#505050" stroke="#505050" stroke-width="0.15" textLength="3.74" lengthAdjust="spacingAndGlyphs">6</text>
<line x1="313.00" y1="259.30" x2="316.80" y2="259.30" stroke="#2e2e2e" stroke-width="1.1" />
<line x1="313.00" y1="248.90" x2="315.20" y2="248.90" stroke="#2e2e2e" stroke-width="1.0" />
<text x="297.15" y="262.40" font-size="8.8" font-family="Liberation Serif, serif" fill="#505050" stroke="#505050" stroke-width="0.15" textLength="3.74" lengthAdjust="spacingAndGlyphs">0</text>
<text x="301.18" y="262.40" font-size="8.8" font-family="Liberation Serif, serif" fill="#505050" stroke="#505050" stroke-width="0.15">.</text>
<text x="305.45" y="262.40" font-size="8.8" font-family="Liberation Serif, serif" fill="#505050" stroke="#505050" stroke-width="0.15" textLength="3.74" lengthAdjust="spacingAndGlyphs">7</text>
<line x1="313.00" y1="238.50" x2="316.80" y2="238.50" stroke="#2e2e2e" stroke-width="1.1" />
<text x="297.15" y="241.60" font-size="8.8" font-family="Liberation Serif, serif" fill="#505050" stroke="#505050" stroke-width="0.15" textLength="3.74" lengthAdjust="spacingAndGlyphs">0</text>
<text x="301.18" y="241.60" font-size="8.8" font-family="Liberation Serif, serif" fill="#505050" stroke="#505050" stroke-width="0.15">.</text>
<text x="305.45" y="241.60" font-size="8.8" font-family="Liberation Serif, serif" fill="#505050" stroke="#505050" stroke-width="0.15" textLength="3.74" lengthAdjust="spacingAndGlyphs">8</text>
<line x1="336.20" y1="415.50" x2="336.20" y2="411.70" stroke="#2e2e2e" stroke-width="1.1" />
<line x1="359.49" y1="415.50" x2="359.49" y2="413.30" stroke="#2e2e2e" stroke-width="1.0" />
<text x="334.33" y="427.00" font-size="8.8" font-family="Liberation Serif, serif" fill="#505050" stroke="#505050" stroke-width="0.15" textLength="3.74" lengthAdjust="spacingAndGlyphs">0</text>
<line x1="382.77" y1="415.50" x2="382.77" y2="411.70" stroke="#2e2e2e" stroke-width="1.1" />
<line x1="406.06" y1="415.50" x2="406.06" y2="413.30" stroke="#2e2e2e" stroke-width="1.0" />
<text x="378.83" y="427.00" font-size="8.8" font-family="Liberation Serif, serif" fill="#505050" stroke="#505050" stroke-width="0.15" textLength="3.74" lengthAdjust="spacingAndGlyphs">5</text>
<text x="382.98" y="427.00" font-size="8.8" font-family="Liberation Serif, serif" fill="#505050" stroke="#505050" stroke-width="0.15" textLength="3.74" lengthAdjust="spacingAndGlyphs">0</text>
<line x1="429.35" y1="415.50" x2="429.35" y2="411.70" stroke="#2e2e2e" stroke-width="1.1" />
<line x1="452.64" y1="415.50" x2="452.64" y2="413.30" stroke="#2e2e2e" stroke-width="1.0" />
<text x="423.33" y="427.00" font-size="8.8" font-family="Liberation Serif, serif" fill="#505050" stroke="#505050" stroke-width="0.15" textLength="3.74" lengthAdjust="spacingAndGlyphs">1</text>
<text x="427.48" y="427.00" font-size="8.8" font-family="Liberation Serif, serif" fill="#505050" stroke="#505050" stroke-width="0.15" textLength="3.74" lengthAdjust="spacingAndGlyphs">0</text>
<text x="431.63" y="427.00" font-size="8.8" font-family="Liberation Serif, serif" fill="#505050" stroke="#505050" stroke-width="0.15" textLength="3.74" lengthAdjust="spacingAndGlyphs">0</text>
<line x1="475.92" y1="415.50" x2="475.92" y2="411.70" stroke="#2e2e2e" stroke-width="1.1" />
<line x1="499.21" y1="415.50" x2="499.21" y2="413.30" stroke="#2e2e2e" stroke-width="1.0" />
<text x="469.90" y="427.00" font-size="8.8" font-family="Liberation Serif, serif" fill="#505050" stroke="#505050" stroke-width="0.15" textLength="3.74" lengthAdjust="spacingAndGlyphs">1</text>
<text x="474.05" y="427.00" font-size="8.8" font-family="Liberation Serif, serif" fill="#505050" stroke="#505050" stroke-width="0.15" textLength="3.74" lengthAdjust="spacingAndGlyphs">5</text>
<text x="478.20" y="427.00" font-size="8.8" font-family="Liberation Serif, serif" fill="#505050" stroke="#505050" stroke-width="0.15" textLength="3.74" lengthAdjust="spacingAndGlyphs">0</text>
<line x1="522.50" y1="415.50" x2="522.50" y2="411.70" stroke="#2e2e2e" stroke-width="1.1" />
<text x="516.48" y="427.00" font-size="8.8" font-family="Liberation Serif, serif" fill="#505050" stroke="#505050" stroke-width="0.15" textLength="3.74" lengthAdjust="spacingAndGlyphs">2</text>
<text x="520.63" y="427.00" font-size="8.8" font-family="Liberation Serif, serif" fill="#505050" stroke="#505050" stroke-width="0.15" textLength="3.74" lengthAdjust="spacingAndGlyphs">0</text>
<text x="524.78" y="427.00" font-size="8.8" font-family="Liberation Serif, serif" fill="#505050" stroke="#505050" stroke-width="0.15" textLength="3.74" lengthAdjust="spacingAndGlyphs">0</text>
<text x="318.30" y="243.20" font-size="15.5" font-family="Liberation Serif, serif" fill="#1e1e1e" stroke="#1e1e1e" stroke-width="0.15" text-anchor="start" textLength="17.0" lengthAdjust="spacingAndGlyphs" >(d)</text>
<text x="391.80" y="440.10" font-size="10" font-family="Liberation Serif, serif" fill="#1e1e1e" stroke="#1e1e1e" stroke-width="0.15" text-anchor="start" textLength="74.2" lengthAdjust="spacingAndGlyphs" >Pore Diameter /nm</text>
<text transform="translate(293.50,374.40) rotate(-90)" font-size="10" font-family="Liberation Serif, serif" fill="#1e1e1e" stroke="#1e1e1e" stroke-width="0.15" textLength="106" lengthAdjust="spacingAndGlyphs">Pore Volume /(cm<tspan font-size="6.5" dy="-3.5">3</tspan><tspan dy="3.5">g·nm</tspan><tspan font-size="6.5" dy="-3.5">−1</tspan><tspan dy="3.5">)</tspan></text>
<polyline points="337.13,403.96 338.06,403.82 338.99,403.90 339.93,403.76 341.32,403.65 342.72,403.59 344.12,403.69 345.51,403.36 347.38,402.84 349.24,403.40 352.04,403.44 359.49,403.86 367.87,404.19 380.91,404.78 509.46,404.88" fill="none" stroke="#3d90e8" stroke-width="1.2" stroke-linejoin="round" />
<rect x="335.13" y="401.96" width="4.0" height="4.0" fill="#1a6ee6"/>
<rect x="336.06" y="401.82" width="4.0" height="4.0" fill="#1a6ee6"/>
<rect x="336.99" y="401.90" width="4.0" height="4.0" fill="#1a6ee6"/>
<rect x="337.93" y="401.76" width="4.0" height="4.0" fill="#1a6ee6"/>
<rect x="339.32" y="401.65" width="4.0" height="4.0" fill="#1a6ee6"/>
<rect x="340.72" y="401.59" width="4.0" height="4.0" fill="#1a6ee6"/>
<rect x="342.12" y="401.69" width="4.0" height="4.0" fill="#1a6ee6"/>
<rect x="343.51" y="401.36" width="4.0" height="4.0" fill="#1a6ee6"/>
<rect x="345.38" y="400.84" width="4.0" height="4.0" fill="#1a6ee6"/>
<rect x="347.24" y="401.40" width="4.0" height="4.0" fill="#1a6ee6"/>
<rect x="350.04" y="401.44" width="4.0" height="4.0" fill="#1a6ee6"/>
<rect x="357.49" y="401.86" width="4.0" height="4.0" fill="#1a6ee6"/>
<rect x="365.87" y="402.19" width="4.0" height="4.0" fill="#1a6ee6"/>
<rect x="378.91" y="402.78" width="4.0" height="4.0" fill="#1a6ee6"/>
<rect x="507.46" y="402.88" width="4.0" height="4.0" fill="#1a6ee6"/>
<polyline points="336.20,244.12 336.59,253.16 336.98,262.19 337.36,271.24 337.76,280.27 338.15,289.31 338.54,298.34 338.93,307.39 339.32,316.42 339.70,325.46 340.09,334.49 340.48,343.54 341.14,363.72 342.25,369.12 343.93,373.49 346.26,377.86 351.01,383.48 357.62,388.68 364.61,392.00 378.49,396.37 462.88,400.32" fill="none" stroke="#1eb6ef" stroke-width="1.0" stroke-linejoin="round" />
<circle cx="336.20" cy="245.02" r="2.4" fill="#1eb6ef"/>
<circle cx="336.59" cy="254.06" r="2.4" fill="#1eb6ef"/>
<circle cx="336.98" cy="263.09" r="2.4" fill="#1eb6ef"/>
<circle cx="337.36" cy="272.14" r="2.4" fill="#1eb6ef"/>
<circle cx="337.76" cy="281.17" r="2.4" fill="#1eb6ef"/>
<circle cx="338.15" cy="290.21" r="2.4" fill="#1eb6ef"/>
<circle cx="338.54" cy="299.24" r="2.4" fill="#1eb6ef"/>
<circle cx="338.93" cy="308.29" r="2.4" fill="#1eb6ef"/>
<circle cx="339.32" cy="317.32" r="2.4" fill="#1eb6ef"/>
<circle cx="339.70" cy="326.36" r="2.4" fill="#1eb6ef"/>
<circle cx="340.09" cy="335.39" r="2.4" fill="#1eb6ef"/>
<circle cx="340.48" cy="344.44" r="2.4" fill="#1eb6ef"/>
<circle cx="341.14" cy="364.62" r="2.4" fill="#1eb6ef"/>
<circle cx="342.25" cy="370.02" r="2.4" fill="#1eb6ef"/>
<circle cx="343.93" cy="374.39" r="2.4" fill="#1eb6ef"/>
<circle cx="346.26" cy="378.76" r="2.4" fill="#1eb6ef"/>
<circle cx="351.01" cy="384.38" r="2.4" fill="#1eb6ef"/>
<circle cx="357.62" cy="389.58" r="2.4" fill="#1eb6ef"/>
<circle cx="364.61" cy="392.90" r="2.4" fill="#1eb6ef"/>
<circle cx="378.49" cy="397.27" r="2.4" fill="#1eb6ef"/>
<circle cx="462.88" cy="401.22" r="2.4" fill="#1eb6ef"/>
<polyline points="336.57,243.70 336.95,252.73 337.34,261.73 337.72,270.76 338.10,279.79 338.48,288.79 338.85,297.82 339.24,306.83 339.62,315.86 340.00,324.88 340.38,333.89 340.76,342.92 341.32,362.68 342.07,366.42 342.91,370.37 344.02,374.32 345.51,377.44 347.94,380.36 351.76,384.52 358.09,387.64 364.33,390.96 378.68,395.75 493.62,400.53" fill="none" stroke="#ee3038" stroke-width="1.0" stroke-linejoin="round" />
<polygon points="336.57,240.58 339.57,245.78 333.57,245.78" fill="#ee3038"/>
<polygon points="336.95,249.61 339.95,254.81 333.95,254.81" fill="#ee3038"/>
<polygon points="337.34,258.62 340.34,263.81 334.34,263.81" fill="#ee3038"/>
<polygon points="337.72,267.64 340.72,272.84 334.72,272.84" fill="#ee3038"/>
<polygon points="338.10,276.67 341.10,281.87 335.10,281.87" fill="#ee3038"/>
<polygon points="338.48,285.68 341.48,290.87 335.48,290.87" fill="#ee3038"/>
<polygon points="338.85,294.70 341.85,299.90 335.85,299.90" fill="#ee3038"/>
<polygon points="339.24,303.71 342.24,308.91 336.24,308.91" fill="#ee3038"/>
<polygon points="339.62,312.74 342.62,317.93 336.62,317.93" fill="#ee3038"/>
<polygon points="340.00,321.76 343.00,326.96 337.00,326.96" fill="#ee3038"/>
<polygon points="340.38,330.77 343.38,335.97 337.38,335.97" fill="#ee3038"/>
<polygon points="340.76,339.80 343.76,344.99 337.76,344.99" fill="#ee3038"/>
<polygon points="341.32,359.56 344.32,364.75 338.32,364.75" fill="#ee3038"/>
<polygon points="342.07,363.30 345.07,368.50 339.07,368.50" fill="#ee3038"/>
<polygon points="342.91,367.25 345.91,372.45 339.91,372.45" fill="#ee3038"/>
<polygon points="344.02,371.21 347.02,376.40 341.02,376.40" fill="#ee3038"/>
<polygon points="345.51,374.33 348.51,379.52 342.51,379.52" fill="#ee3038"/>
<polygon points="347.94,377.24 350.94,382.43 344.94,382.43" fill="#ee3038"/>
<polygon points="351.76,381.40 354.76,386.59 348.76,386.59" fill="#ee3038"/>
<polygon points="358.09,384.52 361.09,389.71 355.09,389.71" fill="#ee3038"/>
<polygon points="364.33,387.85 367.33,393.04 361.33,393.04" fill="#ee3038"/>
<polygon points="378.68,392.63 381.68,397.83 375.68,397.83" fill="#ee3038"/>
<polygon points="493.62,397.41 496.62,402.61 490.62,402.61" fill="#ee3038"/>
<line x1="420.90" y1="377.70" x2="440.50" y2="377.70" stroke="#3d90e8" stroke-width="1.2" />
<rect x="428.20" y="375.40" width="4.6" height="4.6" fill="#1a6ee6"/>
<text x="445.30" y="381.00" font-size="9.6" font-family="Liberation Serif, serif" fill="#3c3c3c" stroke="#3c3c3c" stroke-width="0.12" textLength="4.61" lengthAdjust="spacingAndGlyphs">V</text>
<text x="450.10" y="381.00" font-size="9.6" font-family="Liberation Serif, serif" fill="#3c3c3c" stroke="#3c3c3c" stroke-width="0.12" textLength="4.61" lengthAdjust="spacingAndGlyphs">M</text>
<text x="454.90" y="381.00" font-size="9.6" font-family="Liberation Serif, serif" fill="#3c3c3c" stroke="#3c3c3c" stroke-width="0.12" textLength="4.61" lengthAdjust="spacingAndGlyphs">T</text>
<line x1="469.50" y1="377.70" x2="489.00" y2="377.70" stroke="#1eb6ef" stroke-width="1.2" />
<circle cx="479.50" cy="377.70" r="2.6" fill="#1eb6ef"/>
<text x="493.80" y="381.00" font-size="9.6" font-family="Liberation Serif, serif" fill="#3c3c3c" stroke="#3c3c3c" stroke-width="0.12" textLength="4.66" lengthAdjust="spacingAndGlyphs">V</text>
<text x="498.65" y="381.00" font-size="9.6" font-family="Liberation Serif, serif" fill="#3c3c3c" stroke="#3c3c3c" stroke-width="0.12" textLength="4.66" lengthAdjust="spacingAndGlyphs">M</text>
<text x="503.50" y="381.00" font-size="9.6" font-family="Liberation Serif, serif" fill="#3c3c3c" stroke="#3c3c3c" stroke-width="0.12" textLength="4.66" lengthAdjust="spacingAndGlyphs">T</text>
<text x="510.68" y="381.00" font-size="9.6" font-family="Liberation Serif, serif" fill="#3c3c3c" stroke="#3c3c3c" stroke-width="0.12" text-anchor="middle">-</text>
<text x="515.52" y="381.00" font-size="9.6" font-family="Liberation Serif, serif" fill="#3c3c3c" stroke="#3c3c3c" stroke-width="0.12" text-anchor="middle">1</text>
<text x="520.38" y="381.00" font-size="9.6" font-family="Liberation Serif, serif" fill="#3c3c3c" stroke="#3c3c3c" stroke-width="0.12" text-anchor="middle">0</text>
<line x1="436.00" y1="387.30" x2="455.00" y2="387.30" stroke="#ee3038" stroke-width="1.0" />
<polygon points="445.50,384.39 448.30,389.24 442.70,389.24" fill="#ee3038"/>
<text x="463.40" y="390.70" font-size="9.6" font-family="Liberation Serif, serif" fill="#3c3c3c" stroke="#3c3c3c" stroke-width="0.12" text-anchor="middle">1</text>
<text x="465.90" y="390.70" font-size="9.6" font-family="Liberation Serif, serif" fill="#3c3c3c" stroke="#3c3c3c" stroke-width="0.12" textLength="4.61" lengthAdjust="spacingAndGlyphs">C</text>
<text x="473.00" y="390.70" font-size="9.6" font-family="Liberation Serif, serif" fill="#3c3c3c" stroke="#3c3c3c" stroke-width="0.12" text-anchor="middle">o</text>
<text x="475.50" y="390.70" font-size="9.6" font-family="Liberation Serif, serif" fill="#3c3c3c" stroke="#3c3c3c" stroke-width="0.12" textLength="4.61" lengthAdjust="spacingAndGlyphs">V</text>
<text x="480.30" y="390.70" font-size="9.6" font-family="Liberation Serif, serif" fill="#3c3c3c" stroke="#3c3c3c" stroke-width="0.12" textLength="4.61" lengthAdjust="spacingAndGlyphs">M</text>
<text x="485.10" y="390.70" font-size="9.6" font-family="Liberation Serif, serif" fill="#3c3c3c" stroke="#3c3c3c" stroke-width="0.12" textLength="4.61" lengthAdjust="spacingAndGlyphs">T</text>
<text x="492.20" y="390.70" font-size="9.6" font-family="Liberation Serif, serif" fill="#3c3c3c" stroke="#3c3c3c" stroke-width="0.12" text-anchor="middle">-</text>
<text x="497.00" y="390.70" font-size="9.6" font-family="Liberation Serif, serif" fill="#3c3c3c" stroke="#3c3c3c" stroke-width="0.12" text-anchor="middle">1</text>
<text x="501.80" y="390.70" font-size="9.6" font-family="Liberation Serif, serif" fill="#3c3c3c" stroke="#3c3c3c" stroke-width="0.12" text-anchor="middle">0</text>
<ellipse cx="359.4" cy="403.6" rx="28.0" ry="21.6" fill="none" stroke="#f6a300" stroke-width="2.6"/>
<line x1="369.30" y1="381.90" x2="394.00" y2="353.60" stroke="#f6a300" stroke-width="3.2" />
<polygon points="403.0,343.8 389.6,350.6 396.9,357.8" fill="#f6a300"/>
<rect x="398.9" y="240.5" width="123.90" height="99.70" fill="#fff"/>
<line x1="398.90" y1="331.90" x2="402.70" y2="331.90" stroke="#2e2e2e" stroke-width="1.1" />
<line x1="398.90" y1="323.54" x2="401.10" y2="323.54" stroke="#2e2e2e" stroke-width="1.0" />
<text x="377.52" y="335.20" font-size="8.4" font-family="Liberation Serif, serif" fill="#3c3c3c" stroke="#3c3c3c" stroke-width="0.12" text-anchor="middle">0</text>
<text x="379.58" y="335.20" font-size="8.4" font-family="Liberation Serif, serif" fill="#3c3c3c" stroke="#3c3c3c" stroke-width="0.12">.</text>
<text x="385.42" y="335.20" font-size="8.4" font-family="Liberation Serif, serif" fill="#3c3c3c" stroke="#3c3c3c" stroke-width="0.12" text-anchor="middle">0</text>
<text x="389.37" y="335.20" font-size="8.4" font-family="Liberation Serif, serif" fill="#3c3c3c" stroke="#3c3c3c" stroke-width="0.12" text-anchor="middle">0</text>
<text x="393.32" y="335.20" font-size="8.4" font-family="Liberation Serif, serif" fill="#3c3c3c" stroke="#3c3c3c" stroke-width="0.12" text-anchor="middle">0</text>
<line x1="398.90" y1="315.18" x2="402.70" y2="315.18" stroke="#2e2e2e" stroke-width="1.1" />
<line x1="398.90" y1="306.82" x2="401.10" y2="306.82" stroke="#2e2e2e" stroke-width="1.0" />
<text x="377.52" y="318.48" font-size="8.4" font-family="Liberation Serif, serif" fill="#3c3c3c" stroke="#3c3c3c" stroke-width="0.12" text-anchor="middle">0</text>
<text x="379.58" y="318.48" font-size="8.4" font-family="Liberation Serif, serif" fill="#3c3c3c" stroke="#3c3c3c" stroke-width="0.12">.</text>
<text x="385.42" y="318.48" font-size="8.4" font-family="Liberation Serif, serif" fill="#3c3c3c" stroke="#3c3c3c" stroke-width="0.12" text-anchor="middle">0</text>
<text x="389.37" y="318.48" font-size="8.4" font-family="Liberation Serif, serif" fill="#3c3c3c" stroke="#3c3c3c" stroke-width="0.12" text-anchor="middle">0</text>
<text x="393.32" y="318.48" font-size="8.4" font-family="Liberation Serif, serif" fill="#3c3c3c" stroke="#3c3c3c" stroke-width="0.12" text-anchor="middle">2</text>
<line x1="398.90" y1="298.46" x2="402.70" y2="298.46" stroke="#2e2e2e" stroke-width="1.1" />
<line x1="398.90" y1="290.10" x2="401.10" y2="290.10" stroke="#2e2e2e" stroke-width="1.0" />
<text x="377.52" y="301.76" font-size="8.4" font-family="Liberation Serif, serif" fill="#3c3c3c" stroke="#3c3c3c" stroke-width="0.12" text-anchor="middle">0</text>
<text x="379.58" y="301.76" font-size="8.4" font-family="Liberation Serif, serif" fill="#3c3c3c" stroke="#3c3c3c" stroke-width="0.12">.</text>
<text x="385.42" y="301.76" font-size="8.4" font-family="Liberation Serif, serif" fill="#3c3c3c" stroke="#3c3c3c" stroke-width="0.12" text-anchor="middle">0</text>
<text x="389.37" y="301.76" font-size="8.4" font-family="Liberation Serif, serif" fill="#3c3c3c" stroke="#3c3c3c" stroke-width="0.12" text-anchor="middle">0</text>
<text x="393.32" y="301.76" font-size="8.4" font-family="Liberation Serif, serif" fill="#3c3c3c" stroke="#3c3c3c" stroke-width="0.12" text-anchor="middle">4</text>
<line x1="398.90" y1="281.74" x2="402.70" y2="281.74" stroke="#2e2e2e" stroke-width="1.1" />
<line x1="398.90" y1="273.38" x2="401.10" y2="273.38" stroke="#2e2e2e" stroke-width="1.0" />
<text x="377.52" y="285.04" font-size="8.4" font-family="Liberation Serif, serif" fill="#3c3c3c" stroke="#3c3c3c" stroke-width="0.12" text-anchor="middle">0</text>
<text x="379.58" y="285.04" font-size="8.4" font-family="Liberation Serif, serif" fill="#3c3c3c" stroke="#3c3c3c" stroke-width="0.12">.</text>
<text x="385.42" y="285.04" font-size="8.4" font-family="Liberation Serif, serif" fill="#3c3c3c" stroke="#3c3c3c" stroke-width="0.12" text-anchor="middle">0</text>
<text x="389.37" y="285.04" font-size="8.4" font-family="Liberation Serif, serif" fill="#3c3c3c" stroke="#3c3c3c" stroke-width="0.12" text-anchor="middle">0</text>
<text x="393.32" y="285.04" font-size="8.4" font-family="Liberation Serif, serif" fill="#3c3c3c" stroke="#3c3c3c" stroke-width="0.12" text-anchor="middle">6</text>
<line x1="398.90" y1="265.02" x2="402.70" y2="265.02" stroke="#2e2e2e" stroke-width="1.1" />
<line x1="398.90" y1="256.66" x2="401.10" y2="256.66" stroke="#2e2e2e" stroke-width="1.0" />
<text x="377.52" y="268.32" font-size="8.4" font-family="Liberation Serif, serif" fill="#3c3c3c" stroke="#3c3c3c" stroke-width="0.12" text-anchor="middle">0</text>
<text x="379.58" y="268.32" font-size="8.4" font-family="Liberation Serif, serif" fill="#3c3c3c" stroke="#3c3c3c" stroke-width="0.12">.</text>
<text x="385.42" y="268.32" font-size="8.4" font-family="Liberation Serif, serif" fill="#3c3c3c" stroke="#3c3c3c" stroke-width="0.12" text-anchor="middle">0</text>
<text x="389.37" y="268.32" font-size="8.4" font-family="Liberation Serif, serif" fill="#3c3c3c" stroke="#3c3c3c" stroke-width="0.12" text-anchor="middle">0</text>
<text x="393.32" y="268.32" font-size="8.4" font-family="Liberation Serif, serif" fill="#3c3c3c" stroke="#3c3c3c" stroke-width="0.12" text-anchor="middle">8</text>
<line x1="398.90" y1="248.30" x2="402.70" y2="248.30" stroke="#2e2e2e" stroke-width="1.1" />
<text x="377.52" y="251.60" font-size="8.4" font-family="Liberation Serif, serif" fill="#3c3c3c" stroke="#3c3c3c" stroke-width="0.12" text-anchor="middle">0</text>
<text x="379.58" y="251.60" font-size="8.4" font-family="Liberation Serif, serif" fill="#3c3c3c" stroke="#3c3c3c" stroke-width="0.12">.</text>
<text x="385.42" y="251.60" font-size="8.4" font-family="Liberation Serif, serif" fill="#3c3c3c" stroke="#3c3c3c" stroke-width="0.12" text-anchor="middle">0</text>
<text x="389.37" y="251.60" font-size="8.4" font-family="Liberation Serif, serif" fill="#3c3c3c" stroke="#3c3c3c" stroke-width="0.12" text-anchor="middle">1</text>
<text x="393.32" y="251.60" font-size="8.4" font-family="Liberation Serif, serif" fill="#3c3c3c" stroke="#3c3c3c" stroke-width="0.12" text-anchor="middle">0</text>
<line x1="411.00" y1="340.20" x2="411.00" y2="337.20" stroke="#2e2e2e" stroke-width="1.0" />
<line x1="423.44" y1="340.20" x2="423.44" y2="338.40" stroke="#2e2e2e" stroke-width="0.9" />
<text x="411.00" y="351.60" font-size="8.8" font-family="Liberation Serif, serif" fill="#3c3c3c" stroke="#3c3c3c" stroke-width="0.12" text-anchor="middle">0</text>
<line x1="435.88" y1="340.20" x2="435.88" y2="337.20" stroke="#2e2e2e" stroke-width="1.0" />
<line x1="448.31" y1="340.20" x2="448.31" y2="338.40" stroke="#2e2e2e" stroke-width="0.9" />
<text x="433.78" y="351.60" font-size="8.8" font-family="Liberation Serif, serif" fill="#3c3c3c" stroke="#3c3c3c" stroke-width="0.12" text-anchor="middle">5</text>
<text x="437.98" y="351.60" font-size="8.8" font-family="Liberation Serif, serif" fill="#3c3c3c" stroke="#3c3c3c" stroke-width="0.12" text-anchor="middle">0</text>
<line x1="460.75" y1="340.20" x2="460.75" y2="337.20" stroke="#2e2e2e" stroke-width="1.0" />
<line x1="473.19" y1="340.20" x2="473.19" y2="338.40" stroke="#2e2e2e" stroke-width="0.9" />
<text x="456.55" y="351.60" font-size="8.8" font-family="Liberation Serif, serif" fill="#3c3c3c" stroke="#3c3c3c" stroke-width="0.12" text-anchor="middle">1</text>
<text x="460.75" y="351.60" font-size="8.8" font-family="Liberation Serif, serif" fill="#3c3c3c" stroke="#3c3c3c" stroke-width="0.12" text-anchor="middle">0</text>
<text x="464.95" y="351.60" font-size="8.8" font-family="Liberation Serif, serif" fill="#3c3c3c" stroke="#3c3c3c" stroke-width="0.12" text-anchor="middle">0</text>
<line x1="485.62" y1="340.20" x2="485.62" y2="337.20" stroke="#2e2e2e" stroke-width="1.0" />
<line x1="498.06" y1="340.20" x2="498.06" y2="338.40" stroke="#2e2e2e" stroke-width="0.9" />
<text x="481.43" y="351.60" font-size="8.8" font-family="Liberation Serif, serif" fill="#3c3c3c" stroke="#3c3c3c" stroke-width="0.12" text-anchor="middle">1</text>
<text x="485.62" y="351.60" font-size="8.8" font-family="Liberation Serif, serif" fill="#3c3c3c" stroke="#3c3c3c" stroke-width="0.12" text-anchor="middle">5</text>
<text x="489.82" y="351.60" font-size="8.8" font-family="Liberation Serif, serif" fill="#3c3c3c" stroke="#3c3c3c" stroke-width="0.12" text-anchor="middle">0</text>
<line x1="510.50" y1="340.20" x2="510.50" y2="337.20" stroke="#2e2e2e" stroke-width="1.0" />
<text x="506.30" y="351.60" font-size="8.8" font-family="Liberation Serif, serif" fill="#3c3c3c" stroke="#3c3c3c" stroke-width="0.12" text-anchor="middle">2</text>
<text x="510.50" y="351.60" font-size="8.8" font-family="Liberation Serif, serif" fill="#3c3c3c" stroke="#3c3c3c" stroke-width="0.12" text-anchor="middle">0</text>
<text x="514.70" y="351.60" font-size="8.8" font-family="Liberation Serif, serif" fill="#3c3c3c" stroke="#3c3c3c" stroke-width="0.12" text-anchor="middle">0</text>
<rect x="398.9" y="240.5" width="123.90" height="99.70" fill="none" stroke="#2e2e2e" stroke-width="1.2"/>
<text x="425.30" y="364.40" font-size="9.4" font-family="Liberation Serif, serif" fill="#1e1e1e" stroke="#1e1e1e" stroke-width="0.15" text-anchor="start" textLength="71.2" lengthAdjust="spacingAndGlyphs" >Pore Diameter /nm</text>
<text transform="translate(372.00,340.60) rotate(-90)" font-size="9.6" font-family="Liberation Serif, serif" fill="#1e1e1e" stroke="#1e1e1e" stroke-width="0.15" textLength="101" lengthAdjust="spacingAndGlyphs">Pore Volume /(cm<tspan font-size="6.2" dy="-3.5">3</tspan><tspan dy="3.5">g·nm</tspan><tspan font-size="6.2" dy="-3.5">−1</tspan><tspan dy="3.5">)</tspan></text>
<polyline points="411.25,285.08 411.50,292.61 411.75,288.43 412.00,294.28 412.24,286.76 412.49,295.95 412.74,284.25 412.99,297.62 413.24,282.58 413.49,290.94 413.74,280.07 413.99,295.12 414.48,274.22 414.98,284.25 415.48,279.23 415.98,270.04 416.47,256.66 416.97,249.14 417.96,271.71 419.46,273.38 422.44,290.10 426.42,303.48 433.88,326.88 495.08,331.06" fill="none" stroke="#3d90e8" stroke-width="1.0" stroke-linejoin="round" />
<rect x="409.25" y="283.08" width="4.0" height="4.0" fill="#1a6ee6"/>
<rect x="409.50" y="290.61" width="4.0" height="4.0" fill="#1a6ee6"/>
<rect x="409.75" y="286.43" width="4.0" height="4.0" fill="#1a6ee6"/>
<rect x="410.00" y="292.28" width="4.0" height="4.0" fill="#1a6ee6"/>
<rect x="410.24" y="284.76" width="4.0" height="4.0" fill="#1a6ee6"/>
<rect x="410.49" y="293.95" width="4.0" height="4.0" fill="#1a6ee6"/>
<rect x="410.74" y="282.25" width="4.0" height="4.0" fill="#1a6ee6"/>
<rect x="410.99" y="295.62" width="4.0" height="4.0" fill="#1a6ee6"/>
<rect x="411.24" y="280.58" width="4.0" height="4.0" fill="#1a6ee6"/>
<rect x="411.49" y="288.94" width="4.0" height="4.0" fill="#1a6ee6"/>
<rect x="411.74" y="278.07" width="4.0" height="4.0" fill="#1a6ee6"/>
<rect x="411.99" y="293.12" width="4.0" height="4.0" fill="#1a6ee6"/>
<rect x="412.48" y="272.22" width="4.0" height="4.0" fill="#1a6ee6"/>
<rect x="412.98" y="282.25" width="4.0" height="4.0" fill="#1a6ee6"/>
<rect x="413.48" y="277.23" width="4.0" height="4.0" fill="#1a6ee6"/>
<rect x="413.98" y="268.04" width="4.0" height="4.0" fill="#1a6ee6"/>
<rect x="414.47" y="254.66" width="4.0" height="4.0" fill="#1a6ee6"/>
<rect x="414.97" y="247.14" width="4.0" height="4.0" fill="#1a6ee6"/>
<rect x="415.96" y="269.71" width="4.0" height="4.0" fill="#1a6ee6"/>
<rect x="417.46" y="271.38" width="4.0" height="4.0" fill="#1a6ee6"/>
<rect x="420.44" y="288.10" width="4.0" height="4.0" fill="#1a6ee6"/>
<rect x="424.42" y="301.48" width="4.0" height="4.0" fill="#1a6ee6"/>
<rect x="431.88" y="324.88" width="4.0" height="4.0" fill="#1a6ee6"/>
<rect x="493.08" y="329.06" width="4.0" height="4.0" fill="#1a6ee6"/>
<line x1="473.20" y1="300.60" x2="494.40" y2="300.60" stroke="#3d90e8" stroke-width="1.2" />
<rect x="481.80" y="298.30" width="4.6" height="4.6" fill="#1a6ee6"/>
<text x="497.60" y="303.90" font-size="9.9" font-family="Liberation Serif, serif" fill="#1e1e1e" stroke="#1e1e1e" stroke-width="0.15" text-anchor="start" textLength="20.4" lengthAdjust="spacingAndGlyphs" >VMT</text>
</svg></body></html>
